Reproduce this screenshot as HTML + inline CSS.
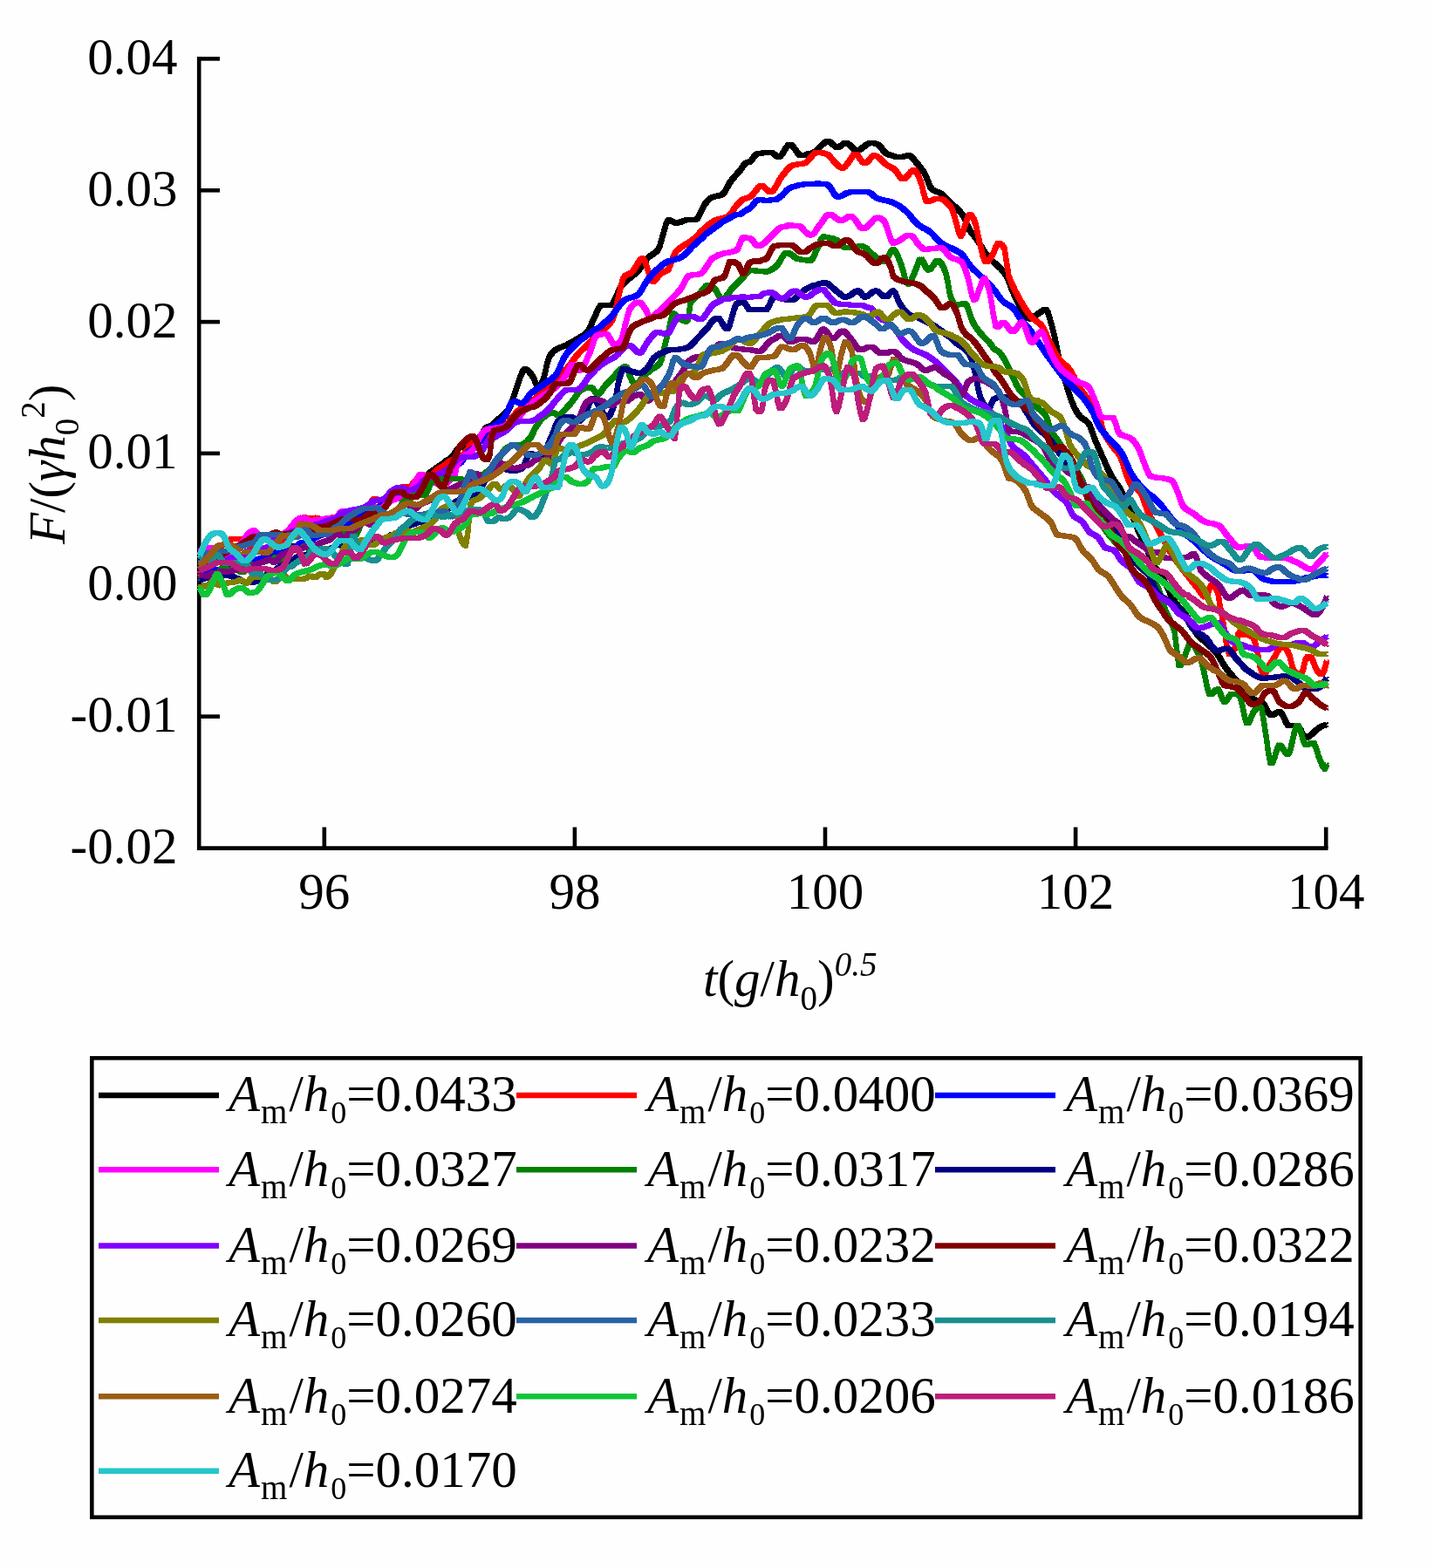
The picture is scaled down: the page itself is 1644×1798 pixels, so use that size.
<!DOCTYPE html>
<html><head><meta charset="utf-8"><style>
html,body{margin:0;padding:0;background:#fefefe;}
svg{display:block;}
text{font-family:"Liberation Serif","Times New Roman",serif;font-size:59px;fill:#000;}
</style></head><body>
<svg width="1644" height="1798" viewBox="0 0 1644 1798">
<rect width="1644" height="1798" fill="#fefefe"/>

<g stroke="#000" stroke-width="4.6" fill="none">
<polyline points="228.2,65.1 228.2,972.6 1522.5,972.6"/>
<line x1="228.0" y1="67.4" x2="252" y2="67.4"/>
<line x1="228.0" y1="218.3" x2="252" y2="218.3"/>
<line x1="228.0" y1="369.1" x2="252" y2="369.1"/>
<line x1="228.0" y1="519.9" x2="252" y2="519.9"/>
<line x1="228.0" y1="670.8" x2="252" y2="670.8"/>
<line x1="228.0" y1="821.6" x2="252" y2="821.6"/>
<line x1="371.8" y1="972.6" x2="371.8" y2="948.5"/>
<line x1="658.9" y1="972.6" x2="658.9" y2="948.5"/>
<line x1="946.0" y1="972.6" x2="946.0" y2="948.5"/>
<line x1="1233.1" y1="972.6" x2="1233.1" y2="948.5"/>
<line x1="1520.2" y1="972.6" x2="1520.2" y2="948.5"/>
</g>
<g fill="none" stroke-width="6" stroke-linejoin="round" shape-rendering="crispEdges">
<defs><polyline id="c0" points="229.0,660.0 231.5,659.4 234.0,658.8 236.5,657.7 239.0,656.5 241.5,656.4 244.0,657.4 246.5,657.7 249.0,656.4 251.5,654.3 254.0,652.6 256.5,652.5 259.0,653.5 261.5,654.3 264.0,653.6 266.5,651.5 269.0,649.0 271.5,647.3 274.0,646.8 276.5,646.7 279.0,645.9 281.5,644.2 284.0,642.4 286.5,642.1 289.0,643.1 291.5,643.4 294.0,642.3 296.5,641.1 299.0,640.3 301.5,639.5 304.0,638.7 306.5,637.8 309.0,637.0 311.5,636.0 314.0,634.1 316.5,631.9 319.0,630.9 321.5,631.4 324.0,632.3 326.5,632.4 329.0,630.8 331.5,628.4 334.0,626.5 336.5,626.0 339.0,626.8 341.5,627.4 344.0,626.6 346.5,624.4 349.0,621.7 351.5,619.8 354.0,618.9 356.5,618.4 359.0,617.2 361.5,615.6 364.0,614.5 366.5,614.2 369.0,613.3 371.5,612.2 374.0,611.1 376.5,610.0 379.0,609.3 381.5,608.0 384.0,606.5 386.5,605.7 389.0,605.0 391.5,603.4 394.0,600.8 396.5,598.3 399.0,596.9 401.5,596.9 404.0,597.5 406.5,597.3 409.0,595.5 411.5,592.7 414.0,590.5 416.5,589.7 419.0,590.2 421.5,590.6 424.0,589.6 426.5,587.2 429.0,584.4 431.5,582.3 434.0,581.2 436.5,580.0 439.0,578.5 441.5,577.0 444.0,575.6 446.5,574.1 449.0,572.6 451.5,571.1 454.0,570.5 456.5,569.9 459.0,568.2 461.5,565.4 464.0,563.2 466.5,561.9 469.0,560.7 471.5,558.4 474.0,555.1 476.5,551.8 479.0,549.6 481.5,549.0 484.0,549.0 486.5,548.0 489.0,545.5 491.5,542.9 494.0,541.2 496.5,539.6 499.0,537.7 501.5,535.9 504.0,534.1 506.5,532.5 509.0,530.6 511.5,528.6 514.0,527.1 516.5,525.8 519.0,523.4 521.5,519.7 524.0,515.9 526.5,513.4 529.0,512.7 531.5,513.4 534.0,513.7 536.5,512.5 539.0,509.8 541.5,506.8 544.0,504.6 546.5,503.2 549.0,501.7 551.5,499.1 554.0,495.4 556.5,491.6 559.0,489.4 561.5,488.6 564.0,487.5 566.5,485.4 569.0,483.0 571.5,480.8 574.0,478.5 576.5,476.5 579.0,474.3 581.5,471.7 584.0,468.2 586.5,462.2 589.0,454.4 591.5,447.3 594.0,439.9 596.5,432.4 599.0,426.2 601.5,423.1 604.0,423.7 606.5,426.0 609.0,429.2 611.5,432.8 614.0,439.0 616.5,443.1 619.0,441.8 621.5,438.5 624.0,431.8 626.5,420.3 629.0,410.9 631.5,406.6 634.0,403.4 636.5,401.3 639.0,399.8 641.5,398.7 644.0,397.8 646.5,396.9 649.0,395.9 651.5,394.6 654.0,393.3 656.5,391.7 659.0,390.4 661.5,388.8 664.0,387.4 666.5,386.0 669.0,384.5 671.5,382.6 674.0,380.0 676.5,375.1 679.0,369.4 681.5,364.2 684.0,358.4 686.5,353.1 689.0,350.2 691.5,350.1 694.0,350.1 696.5,350.1 699.0,350.1 701.5,349.6 704.0,345.7 706.5,340.6 709.0,334.2 711.5,328.8 714.0,325.8 716.5,323.5 719.0,321.3 721.5,319.1 724.0,317.2 726.5,315.2 729.0,313.0 731.5,310.6 734.0,307.6 736.5,304.0 739.0,300.4 741.5,297.1 744.0,294.6 746.5,292.7 749.0,291.2 751.5,289.3 754.0,286.8 756.5,282.2 759.0,272.9 761.5,264.2 764.0,255.8 766.5,252.2 769.0,253.0 771.5,254.4 774.0,255.6 776.5,255.7 779.0,255.1 781.5,254.1 784.0,253.0 786.5,252.3 789.0,252.2 791.5,252.2 794.0,252.2 796.5,252.2 799.0,251.2 801.5,247.3 804.0,241.9 806.5,236.7 809.0,233.0 811.5,230.0 814.0,227.5 816.5,226.2 819.0,225.4 821.5,225.0 824.0,224.4 826.5,223.7 829.0,222.4 831.5,219.1 834.0,214.3 836.5,209.7 839.0,206.3 841.5,203.3 844.0,200.5 846.5,197.7 849.0,194.7 851.5,190.9 854.0,187.6 856.5,186.3 859.0,185.9 861.5,184.3 864.0,180.4 866.5,176.9 869.0,176.1 871.5,175.7 874.0,175.5 876.5,174.9 879.0,174.8 881.5,174.7 884.0,174.7 886.5,175.9 889.0,178.1 891.5,179.8 894.0,179.7 896.5,177.1 899.0,173.0 901.5,169.0 904.0,166.1 906.5,165.7 909.0,167.7 911.5,171.2 914.0,174.8 916.5,177.5 919.0,178.3 921.5,178.1 924.0,177.5 926.5,176.5 929.0,176.1 931.5,175.3 934.0,174.2 936.5,172.4 939.0,169.8 941.5,166.9 944.0,164.7 946.5,162.8 949.0,161.9 951.5,162.6 954.0,164.7 956.5,167.1 959.0,168.9 961.5,169.0 964.0,167.3 966.5,165.1 969.0,163.7 971.5,164.3 974.0,166.3 976.5,168.7 979.0,171.3 981.5,172.7 984.0,172.5 986.5,171.3 989.0,169.3 991.5,167.4 994.0,165.5 996.5,164.1 999.0,163.7 1001.5,164.0 1004.0,164.8 1006.5,165.7 1009.0,167.9 1011.5,171.0 1014.0,174.2 1016.5,176.3 1019.0,177.3 1021.5,178.2 1024.0,178.8 1026.5,179.6 1029.0,180.0 1031.5,180.1 1034.0,179.9 1036.5,179.3 1039.0,178.7 1041.5,178.3 1044.0,178.8 1046.5,181.3 1049.0,184.6 1051.5,187.5 1054.0,190.5 1056.5,193.8 1059.0,197.4 1061.5,201.8 1064.0,208.2 1066.5,214.4 1069.0,217.4 1071.5,218.8 1074.0,219.8 1076.5,220.7 1079.0,222.1 1081.5,224.2 1084.0,226.8 1086.5,229.5 1089.0,232.1 1091.5,234.4 1094.0,236.4 1096.5,238.4 1099.0,241.0 1101.5,243.8 1104.0,247.0 1106.5,251.6 1109.0,258.0 1111.5,263.6 1114.0,267.2 1116.5,270.0 1119.0,273.1 1121.5,276.8 1124.0,281.0 1126.5,285.3 1129.0,289.3 1131.5,292.8 1134.0,295.6 1136.5,298.0 1139.0,300.4 1141.5,302.8 1144.0,305.0 1146.5,307.1 1149.0,309.7 1151.5,312.7 1154.0,316.8 1156.5,322.5 1159.0,329.2 1161.5,335.3 1164.0,340.9 1166.5,345.5 1169.0,350.4 1171.5,355.0 1174.0,359.4 1176.5,362.9 1179.0,365.1 1181.5,365.7 1184.0,364.7 1186.5,362.8 1189.0,360.6 1191.5,358.7 1194.0,357.1 1196.5,355.5 1199.0,354.7 1201.5,358.3 1204.0,366.9 1206.5,375.7 1209.0,385.9 1211.5,397.5 1214.0,409.9 1216.5,420.1 1219.0,429.3 1221.5,437.9 1224.0,446.2 1226.5,454.2 1229.0,461.1 1231.5,466.8 1234.0,471.6 1236.5,475.6 1239.0,478.4 1241.5,480.3 1244.0,481.9 1246.5,483.8 1249.0,486.9 1251.5,493.4 1254.0,500.7 1256.5,506.8 1259.0,512.6 1261.5,518.3 1264.0,523.9 1266.5,529.6 1269.0,535.3 1271.5,540.6 1274.0,545.4 1276.5,549.5 1279.0,553.1 1281.5,556.6 1284.0,560.3 1286.5,564.7 1289.0,569.6 1291.5,574.8 1294.0,580.6 1296.5,586.9 1299.0,593.4 1301.5,599.7 1304.0,606.2 1306.5,612.2 1309.0,617.4 1311.5,622.2 1314.0,627.3 1316.5,633.5 1319.0,640.3 1321.5,646.0 1324.0,650.2 1326.5,653.6 1329.0,656.9 1331.5,660.4 1334.0,664.7 1336.5,669.7 1339.0,674.9 1341.5,680.5 1344.0,685.4 1346.5,689.4 1349.0,692.9 1351.5,696.2 1354.0,699.3 1356.5,701.8 1359.0,705.0 1361.5,708.4 1364.0,712.3 1366.5,717.2 1369.0,722.1 1371.5,726.1 1374.0,729.0 1376.5,731.4 1379.0,733.7 1381.5,736.0 1384.0,738.4 1386.5,740.7 1389.0,742.4 1391.5,745.4 1394.0,748.1 1396.5,751.3 1399.0,755.4 1401.5,759.9 1404.0,764.0 1406.5,767.4 1409.0,770.6 1411.5,773.6 1414.0,776.5 1416.5,779.5 1419.0,782.4 1421.5,785.3 1424.0,788.2 1426.5,791.3 1429.0,794.6 1431.5,797.5 1434.0,799.9 1436.5,801.6 1439.0,802.7 1441.5,803.5 1444.0,804.4 1446.5,805.6 1449.0,807.6 1451.5,811.9 1454.0,816.7 1456.5,819.8 1459.0,819.8 1461.5,818.5 1464.0,817.0 1466.5,816.0 1469.0,817.5 1471.5,822.1 1474.0,827.6 1476.5,831.7 1479.0,832.4 1481.5,832.4 1484.0,832.4 1486.5,832.4 1489.0,833.3 1491.5,837.6 1494.0,842.7 1496.5,845.9 1499.0,845.6 1501.5,843.9 1504.0,841.7 1506.5,839.6 1509.0,837.3 1511.5,835.1 1514.0,833.6 1516.5,832.4 1519.0,831.5 1521.0,831.1"/>
<polyline id="c1" points="229.0,658.0 231.5,653.6 234.0,649.5 236.5,645.3 239.0,641.5 241.5,639.1 244.0,637.7 246.5,635.2 249.0,631.8 251.5,628.4 254.0,626.0 256.5,624.6 259.0,623.0 261.5,620.6 264.0,618.6 266.5,618.1 269.0,618.2 271.5,617.9 274.0,618.0 276.5,618.5 279.0,620.1 281.5,622.5 284.0,624.6 286.5,626.8 289.0,628.2 291.5,629.3 294.0,630.3 296.5,631.4 299.0,631.9 301.5,631.9 304.0,631.5 306.5,630.8 309.0,630.3 311.5,629.1 314.0,626.4 316.5,623.4 319.0,621.8 321.5,621.2 324.0,620.6 326.5,618.7 329.0,615.7 331.5,612.6 334.0,610.2 336.5,608.6 339.0,606.7 341.5,603.3 344.0,598.7 346.5,594.5 349.0,593.3 351.5,594.0 354.0,594.5 356.5,594.0 359.0,593.6 361.5,593.5 364.0,594.0 366.5,594.9 369.0,595.6 371.5,596.0 374.0,596.0 376.5,595.8 379.0,594.9 381.5,593.4 384.0,593.1 386.5,594.2 389.0,595.0 391.5,593.9 394.0,591.7 396.5,589.8 399.0,589.2 401.5,589.8 404.0,590.4 406.5,589.9 409.0,588.3 411.5,586.7 414.0,585.9 416.5,585.8 419.0,585.2 421.5,582.9 424.0,578.8 426.5,574.5 429.0,571.6 431.5,572.0 434.0,573.6 436.5,574.0 439.0,572.9 441.5,571.6 444.0,570.4 446.5,569.3 449.0,568.2 451.5,567.6 454.0,566.7 456.5,564.2 459.0,560.6 461.5,558.2 464.0,558.2 466.5,559.0 469.0,558.9 471.5,557.1 474.0,554.2 476.5,551.6 479.0,550.4 481.5,550.4 484.0,550.3 486.5,549.3 489.0,547.3 491.5,545.4 494.0,544.3 496.5,543.2 499.0,541.1 501.5,538.6 504.0,536.9 506.5,535.3 509.0,533.7 511.5,532.1 514.0,529.7 516.5,528.2 519.0,527.2 521.5,525.9 524.0,524.5 526.5,523.6 529.0,523.1 531.5,521.7 534.0,518.6 536.5,514.0 539.0,509.5 541.5,506.7 544.0,506.5 546.5,506.3 549.0,505.0 551.5,503.2 554.0,501.6 556.5,500.1 559.0,498.7 561.5,497.5 564.0,496.5 566.5,495.7 569.0,494.3 571.5,492.9 574.0,491.5 576.5,490.0 579.0,488.3 581.5,486.1 584.0,483.3 586.5,479.4 589.0,476.6 591.5,473.8 594.0,471.3 596.5,469.4 599.0,467.8 601.5,466.3 604.0,464.8 606.5,463.2 609.0,461.4 611.5,459.2 614.0,457.2 616.5,454.5 619.0,452.1 621.5,449.9 624.0,447.7 626.5,445.5 629.0,443.6 631.5,441.2 634.0,438.9 636.5,436.6 639.0,434.1 641.5,431.7 644.0,429.1 646.5,426.5 649.0,423.7 651.5,420.8 654.0,417.6 656.5,414.2 659.0,410.6 661.5,407.4 664.0,404.6 666.5,402.1 669.0,399.7 671.5,397.3 674.0,394.8 676.5,392.3 679.0,389.7 681.5,387.1 684.0,384.8 686.5,382.3 689.0,379.9 691.5,377.8 694.0,376.4 696.5,373.9 699.0,371.2 701.5,367.8 704.0,362.0 706.5,351.7 709.0,340.4 711.5,329.7 714.0,319.9 716.5,316.5 719.0,315.1 721.5,314.0 724.0,312.6 726.5,309.8 729.0,305.7 731.5,301.4 734.0,297.9 736.5,296.1 739.0,298.7 741.5,306.0 744.0,313.4 746.5,321.5 749.0,323.2 751.5,320.9 754.0,317.6 756.5,314.6 759.0,313.0 761.5,311.8 764.0,310.5 766.5,308.5 769.0,302.7 771.5,295.0 774.0,289.8 776.5,287.1 779.0,285.0 781.5,283.1 784.0,281.4 786.5,280.0 789.0,278.6 791.5,276.8 794.0,275.1 796.5,273.1 799.0,270.6 801.5,267.9 804.0,265.3 806.5,262.9 809.0,260.7 811.5,258.6 814.0,256.5 816.5,254.7 819.0,253.2 821.5,252.0 824.0,251.2 826.5,250.6 829.0,250.0 831.5,249.3 834.0,248.4 836.5,246.5 839.0,243.7 841.5,239.6 844.0,236.2 846.5,233.6 849.0,230.8 851.5,228.8 854.0,227.7 856.5,227.0 859.0,226.2 861.5,224.7 864.0,221.9 866.5,218.6 869.0,215.3 871.5,213.3 874.0,213.2 876.5,215.0 879.0,217.4 881.5,219.5 884.0,220.3 886.5,218.6 889.0,214.9 891.5,210.4 894.0,205.7 896.5,202.0 899.0,198.9 901.5,195.8 904.0,193.1 906.5,190.7 909.0,189.4 911.5,188.8 914.0,188.5 916.5,188.1 919.0,188.0 921.5,187.5 924.0,186.4 926.5,184.0 929.0,181.2 931.5,178.0 934.0,175.7 936.5,174.7 939.0,174.8 941.5,175.1 944.0,175.6 946.5,176.2 949.0,177.2 951.5,179.6 954.0,182.6 956.5,185.4 959.0,187.9 961.5,190.5 964.0,192.4 966.5,192.8 969.0,190.8 971.5,187.6 974.0,184.5 976.5,180.4 979.0,177.1 981.5,176.8 984.0,179.2 986.5,182.8 989.0,186.1 991.5,187.4 994.0,186.1 996.5,183.3 999.0,180.3 1001.5,178.4 1004.0,178.6 1006.5,179.9 1009.0,182.1 1011.5,184.6 1014.0,186.9 1016.5,189.0 1019.0,190.6 1021.5,191.9 1024.0,193.3 1026.5,195.1 1029.0,198.5 1031.5,202.5 1034.0,205.3 1036.5,205.4 1039.0,203.4 1041.5,200.3 1044.0,197.3 1046.5,195.1 1049.0,195.1 1051.5,198.7 1054.0,204.4 1056.5,211.1 1059.0,221.6 1061.5,230.1 1064.0,231.1 1066.5,230.4 1069.0,229.6 1071.5,228.4 1074.0,227.7 1076.5,227.7 1079.0,228.3 1081.5,228.9 1084.0,230.7 1086.5,233.2 1089.0,235.7 1091.5,239.6 1094.0,247.3 1096.5,256.2 1099.0,266.3 1101.5,271.2 1104.0,266.4 1106.5,258.1 1109.0,250.0 1111.5,245.9 1114.0,247.3 1116.5,251.5 1119.0,258.8 1121.5,271.2 1124.0,281.7 1126.5,292.4 1129.0,299.7 1131.5,300.2 1134.0,297.9 1136.5,294.5 1139.0,290.2 1141.5,283.6 1144.0,279.0 1146.5,279.2 1149.0,281.3 1151.5,285.1 1154.0,300.8 1156.5,316.7 1159.0,323.2 1161.5,328.5 1164.0,333.8 1166.5,338.5 1169.0,343.2 1171.5,347.5 1174.0,351.6 1176.5,355.5 1179.0,359.2 1181.5,362.4 1184.0,365.1 1186.5,367.0 1189.0,368.8 1191.5,370.7 1194.0,373.2 1196.5,377.2 1199.0,382.4 1201.5,388.1 1204.0,393.5 1206.5,398.4 1209.0,403.2 1211.5,407.7 1214.0,411.4 1216.5,414.3 1219.0,416.6 1221.5,418.8 1224.0,421.1 1226.5,424.0 1229.0,427.8 1231.5,432.6 1234.0,437.7 1236.5,442.4 1239.0,446.3 1241.5,449.9 1244.0,453.3 1246.5,456.4 1249.0,459.3 1251.5,461.5 1254.0,463.3 1256.5,465.4 1259.0,468.8 1261.5,480.7 1264.0,492.4 1266.5,498.1 1269.0,502.5 1271.5,506.1 1274.0,509.7 1276.5,513.1 1279.0,515.9 1281.5,518.8 1284.0,522.6 1286.5,528.9 1289.0,537.4 1291.5,544.7 1294.0,551.1 1296.5,555.3 1299.0,557.7 1301.5,559.4 1304.0,561.0 1306.5,563.4 1309.0,567.9 1311.5,574.6 1314.0,581.6 1316.5,588.1 1319.0,593.2 1321.5,596.8 1324.0,600.3 1326.5,604.6 1329.0,609.7 1331.5,614.6 1334.0,619.3 1336.5,624.0 1339.0,628.4 1341.5,632.6 1344.0,636.5 1346.5,640.2 1349.0,644.0 1351.5,647.1 1354.0,650.4 1356.5,653.7 1359.0,656.8 1361.5,659.9 1364.0,663.0 1366.5,666.2 1369.0,669.4 1371.5,672.5 1374.0,675.7 1376.5,679.4 1379.0,682.7 1381.5,684.5 1384.0,682.1 1386.5,675.0 1389.0,670.9 1391.5,671.9 1394.0,674.7 1396.5,680.5 1399.0,696.9 1401.5,708.9 1404.0,724.3 1406.5,741.2 1409.0,749.9 1411.5,749.4 1414.0,746.3 1416.5,741.6 1419.0,728.5 1421.5,724.7 1424.0,727.3 1426.5,728.4 1429.0,728.4 1431.5,728.4 1434.0,729.1 1436.5,730.8 1439.0,736.6 1441.5,747.2 1444.0,762.2 1446.5,770.1 1449.0,773.6 1451.5,770.8 1454.0,765.1 1456.5,760.9 1459.0,757.1 1461.5,753.1 1464.0,748.0 1466.5,743.8 1469.0,742.7 1471.5,742.1 1474.0,743.1 1476.5,747.4 1479.0,753.6 1481.5,764.4 1484.0,770.0 1486.5,771.9 1489.0,773.1 1491.5,773.6 1494.0,767.7 1496.5,757.0 1499.0,753.1 1501.5,753.1 1504.0,754.6 1506.5,761.1 1509.0,767.5 1511.5,771.0 1514.0,773.4 1516.5,772.4 1519.0,766.2 1521.0,758.5"/>
<polyline id="c2" points="229.0,660.0 231.5,659.4 234.0,658.8 236.5,658.1 239.0,657.5 241.5,656.8 244.0,655.4 246.5,653.9 249.0,653.1 251.5,653.4 254.0,654.2 256.5,654.7 259.0,653.9 261.5,652.1 264.0,650.2 266.5,649.3 269.0,649.5 271.5,650.1 274.0,649.9 276.5,648.7 279.0,646.8 281.5,645.3 284.0,644.6 286.5,644.2 289.0,643.5 291.5,642.4 294.0,641.7 296.5,641.1 299.0,640.3 301.5,639.5 304.0,638.7 306.5,638.3 309.0,637.9 311.5,636.7 314.0,635.3 316.5,634.3 319.0,633.6 321.5,632.6 324.0,630.8 326.5,628.8 329.0,627.5 331.5,627.4 334.0,628.0 336.5,628.2 339.0,627.2 341.5,625.1 344.0,622.9 346.5,621.8 349.0,621.7 351.5,621.9 354.0,621.5 356.5,620.0 359.0,617.9 361.5,616.4 364.0,615.4 366.5,614.4 369.0,613.3 371.5,612.2 374.0,611.1 376.5,610.0 379.0,608.4 381.5,607.5 384.0,607.6 386.5,607.7 389.0,606.2 391.5,603.9 394.0,601.9 396.5,600.7 399.0,599.7 401.5,598.2 404.0,595.9 406.5,593.3 409.0,591.5 411.5,591.0 414.0,591.2 416.5,591.0 419.0,589.7 421.5,587.3 424.0,584.9 426.5,583.4 429.0,583.0 431.5,582.8 434.0,581.6 436.5,579.8 439.0,578.1 441.5,576.8 444.0,575.5 446.5,574.3 449.0,573.0 451.5,571.8 454.0,569.8 456.5,567.5 459.0,566.1 461.5,566.4 464.0,567.2 466.5,567.2 469.0,565.9 471.5,564.0 474.0,562.4 476.5,561.4 479.0,560.7 481.5,559.3 484.0,557.0 486.5,554.4 489.0,552.6 491.5,552.0 494.0,552.2 496.5,552.1 499.0,550.8 501.5,548.4 504.0,546.3 506.5,545.0 509.0,543.9 511.5,542.3 514.0,540.7 516.5,539.0 519.0,537.1 521.5,535.2 524.0,533.3 526.5,531.7 529.0,529.7 531.5,526.2 534.0,522.0 536.5,518.3 539.0,516.5 541.5,515.3 544.0,513.3 546.5,510.3 549.0,507.3 551.5,504.2 554.0,500.5 556.5,496.3 559.0,492.8 561.5,490.8 564.0,489.4 566.5,488.1 569.0,486.6 571.5,484.6 574.0,482.6 576.5,480.4 579.0,477.3 581.5,473.4 584.0,465.7 586.5,461.6 589.0,460.4 591.5,460.3 594.0,461.4 596.5,462.7 599.0,463.0 601.5,460.9 604.0,457.1 606.5,453.2 609.0,450.6 611.5,448.8 614.0,447.1 616.5,445.5 619.0,443.8 621.5,442.1 624.0,440.4 626.5,438.6 629.0,436.8 631.5,435.1 634.0,433.2 636.5,430.9 639.0,427.4 641.5,422.0 644.0,415.8 646.5,410.3 649.0,406.6 651.5,403.5 654.0,400.8 656.5,398.3 659.0,395.9 661.5,393.7 664.0,391.5 666.5,389.1 669.0,387.5 671.5,385.8 674.0,383.9 676.5,382.0 679.0,380.1 681.5,378.3 684.0,376.8 686.5,375.8 689.0,374.1 691.5,371.5 694.0,369.3 696.5,367.3 699.0,365.0 701.5,362.3 704.0,359.0 706.5,355.6 709.0,352.0 711.5,348.6 714.0,345.8 716.5,343.7 719.0,342.4 721.5,341.6 724.0,341.1 726.5,340.2 729.0,339.3 731.5,338.0 734.0,335.2 736.5,330.8 739.0,326.1 741.5,322.3 744.0,319.1 746.5,316.0 749.0,313.2 751.5,310.7 754.0,308.4 756.5,306.2 759.0,304.1 761.5,302.2 764.0,300.7 766.5,299.5 769.0,298.7 771.5,298.1 774.0,297.5 776.5,296.9 779.0,296.0 781.5,294.6 784.0,292.7 786.5,290.4 789.0,287.9 791.5,285.2 794.0,282.6 796.5,280.2 799.0,278.0 801.5,275.8 804.0,273.8 806.5,271.2 809.0,268.5 811.5,266.8 814.0,265.1 816.5,263.2 819.0,261.3 821.5,259.5 824.0,257.8 826.5,255.7 829.0,254.0 831.5,253.0 834.0,251.5 836.5,250.0 839.0,248.6 841.5,247.3 844.0,246.2 846.5,245.6 849.0,245.5 851.5,243.7 854.0,241.9 856.5,240.6 859.0,239.2 861.5,237.1 864.0,233.9 866.5,230.8 869.0,229.4 871.5,229.4 874.0,229.4 876.5,229.6 879.0,230.1 881.5,229.6 884.0,229.4 886.5,229.4 889.0,229.2 891.5,228.0 894.0,226.1 896.5,224.2 899.0,221.5 901.5,218.8 904.0,216.6 906.5,215.1 909.0,214.3 911.5,213.6 914.0,212.9 916.5,212.2 919.0,211.7 921.5,211.5 924.0,211.2 926.5,211.2 929.0,211.2 931.5,211.4 934.0,211.4 936.5,210.4 939.0,210.4 941.5,211.0 944.0,211.2 946.5,211.2 949.0,211.7 951.5,214.4 954.0,218.4 956.5,222.6 959.0,225.3 961.5,225.7 964.0,225.0 966.5,223.7 969.0,222.2 971.5,221.1 974.0,220.4 976.5,220.3 979.0,220.3 981.5,220.3 984.0,219.9 986.5,219.8 989.0,220.2 991.5,220.3 994.0,220.3 996.5,220.6 999.0,222.2 1001.5,224.4 1004.0,226.5 1006.5,227.8 1009.0,228.5 1011.5,229.2 1014.0,229.7 1016.5,230.1 1019.0,230.7 1021.5,231.5 1024.0,232.6 1026.5,233.7 1029.0,234.8 1031.5,236.4 1034.0,238.5 1036.5,240.4 1039.0,242.4 1041.5,244.9 1044.0,248.0 1046.5,251.2 1049.0,254.2 1051.5,256.7 1054.0,258.6 1056.5,260.1 1059.0,261.7 1061.5,262.8 1064.0,264.3 1066.5,266.1 1069.0,268.5 1071.5,271.2 1074.0,274.0 1076.5,276.6 1079.0,278.7 1081.5,280.2 1084.0,281.5 1086.5,283.1 1089.0,283.8 1091.5,284.9 1094.0,286.2 1096.5,287.5 1099.0,288.9 1101.5,290.6 1104.0,292.8 1106.5,296.3 1109.0,300.3 1111.5,303.8 1114.0,306.6 1116.5,309.2 1119.0,311.5 1121.5,313.9 1124.0,316.4 1126.5,318.8 1129.0,321.1 1131.5,323.4 1134.0,326.1 1136.5,328.6 1139.0,331.4 1141.5,334.5 1144.0,338.1 1146.5,341.6 1149.0,344.6 1151.5,346.8 1154.0,348.4 1156.5,349.8 1159.0,351.3 1161.5,353.4 1164.0,356.5 1166.5,360.4 1169.0,364.2 1171.5,367.4 1174.0,370.3 1176.5,373.1 1179.0,376.0 1181.5,379.2 1184.0,382.7 1186.5,386.5 1189.0,390.4 1191.5,394.2 1194.0,397.8 1196.5,401.5 1199.0,405.2 1201.5,408.6 1204.0,412.1 1206.5,415.6 1209.0,419.0 1211.5,422.3 1214.0,425.9 1216.5,429.2 1219.0,432.2 1221.5,435.2 1224.0,438.0 1226.5,440.5 1229.0,442.8 1231.5,445.2 1234.0,447.7 1236.5,450.4 1239.0,453.2 1241.5,456.0 1244.0,459.0 1246.5,462.7 1249.0,466.3 1251.5,470.3 1254.0,475.2 1256.5,481.4 1259.0,487.1 1261.5,491.1 1264.0,494.5 1266.5,497.5 1269.0,500.5 1271.5,503.3 1274.0,505.8 1276.5,508.1 1279.0,511.0 1281.5,513.7 1284.0,516.8 1286.5,520.6 1289.0,525.5 1291.5,530.9 1294.0,536.7 1296.5,542.0 1299.0,546.5 1301.5,550.0 1304.0,553.2 1306.5,556.0 1309.0,558.7 1311.5,561.2 1314.0,563.7 1316.5,566.0 1319.0,568.2 1321.5,569.5 1324.0,572.2 1326.5,574.4 1329.0,576.8 1331.5,579.6 1334.0,582.7 1336.5,586.1 1339.0,589.3 1341.5,592.6 1344.0,595.6 1346.5,598.6 1349.0,601.5 1351.5,604.5 1354.0,607.3 1356.5,609.8 1359.0,612.1 1361.5,614.3 1364.0,616.2 1366.5,618.3 1369.0,620.4 1371.5,622.7 1374.0,625.0 1376.5,627.8 1379.0,630.3 1381.5,632.2 1384.0,634.4 1386.5,636.4 1389.0,638.2 1391.5,639.8 1394.0,641.4 1396.5,642.5 1399.0,643.9 1401.5,645.6 1404.0,647.0 1406.5,648.4 1409.0,650.0 1411.5,651.8 1414.0,653.3 1416.5,654.3 1419.0,655.0 1421.5,655.1 1424.0,654.8 1426.5,654.4 1429.0,653.8 1431.5,653.5 1434.0,653.3 1436.5,653.7 1439.0,655.3 1441.5,657.9 1444.0,660.3 1446.5,662.6 1449.0,664.1 1451.5,664.8 1454.0,665.5 1456.5,666.3 1459.0,666.6 1461.5,666.8 1464.0,667.0 1466.5,667.0 1469.0,667.0 1471.5,667.2 1474.0,667.1 1476.5,667.0 1479.0,667.0 1481.5,666.9 1484.0,666.6 1486.5,665.9 1489.0,665.6 1491.5,664.9 1494.0,663.6 1496.5,662.7 1499.0,662.2 1501.5,661.8 1504.0,661.5 1506.5,661.3 1509.0,660.6 1511.5,659.6 1514.0,659.9 1516.5,660.2 1519.0,660.1 1521.0,660.0"/>
<polyline id="c3" points="229.0,632.5 231.5,630.5 234.0,629.1 236.5,628.1 239.0,627.8 241.5,627.6 244.0,627.6 246.5,628.8 249.0,631.4 251.5,634.6 254.0,637.6 256.5,639.6 259.0,639.9 261.5,638.9 264.0,637.0 266.5,635.1 269.0,632.0 271.5,628.8 274.0,626.0 276.5,623.4 279.0,620.3 281.5,616.3 284.0,612.8 286.5,610.7 289.0,608.7 291.5,608.1 294.0,610.9 296.5,613.1 299.0,613.5 301.5,614.1 304.0,615.2 306.5,615.0 309.0,613.5 311.5,613.6 314.0,614.6 316.5,615.0 319.0,615.0 321.5,614.8 324.0,613.7 326.5,611.8 329.0,609.4 331.5,607.0 334.0,604.3 336.5,600.9 339.0,597.8 341.5,595.8 344.0,594.3 346.5,593.5 349.0,593.9 351.5,595.4 354.0,596.8 356.5,597.2 359.0,597.1 361.5,596.5 364.0,595.6 366.5,595.9 369.0,595.5 371.5,595.1 374.0,594.6 376.5,594.1 379.0,594.1 381.5,594.9 384.0,594.9 386.5,592.9 389.0,589.3 391.5,586.8 394.0,586.1 396.5,586.8 399.0,587.2 401.5,586.7 404.0,585.3 406.5,584.0 409.0,583.6 411.5,583.7 414.0,583.2 416.5,582.0 419.0,581.1 421.5,581.0 424.0,581.0 426.5,580.9 429.0,581.2 431.5,582.2 434.0,582.8 436.5,582.5 439.0,581.6 441.5,579.6 444.0,577.4 446.5,575.3 449.0,574.0 451.5,572.9 454.0,572.1 456.5,571.3 459.0,571.2 461.5,572.5 464.0,573.0 466.5,570.7 469.0,566.3 471.5,561.1 474.0,555.9 476.5,551.8 479.0,547.6 481.5,544.4 484.0,544.0 486.5,545.0 489.0,546.5 491.5,548.7 494.0,550.8 496.5,552.4 499.0,553.8 501.5,554.6 504.0,554.5 506.5,554.2 509.0,554.1 511.5,554.4 514.0,552.1 516.5,549.3 519.0,546.9 521.5,544.1 524.0,533.0 526.5,528.9 529.0,526.0 531.5,523.1 534.0,521.4 536.5,520.6 539.0,518.9 541.5,516.6 544.0,513.2 546.5,508.8 549.0,504.0 551.5,499.2 554.0,495.5 556.5,493.2 559.0,492.3 561.5,491.7 564.0,491.2 566.5,490.6 569.0,490.5 571.5,490.4 574.0,489.8 576.5,489.3 579.0,488.5 581.5,487.4 584.0,485.7 586.5,484.0 589.0,483.5 591.5,483.2 594.0,480.7 596.5,476.3 599.0,472.7 601.5,470.1 604.0,467.8 606.5,465.7 609.0,463.8 611.5,461.8 614.0,459.4 616.5,458.0 619.0,456.2 621.5,454.5 624.0,452.8 626.5,451.2 629.0,449.8 631.5,448.0 634.0,446.6 636.5,444.8 639.0,442.6 641.5,440.0 644.0,437.0 646.5,433.7 649.0,429.9 651.5,424.7 654.0,419.9 656.5,417.6 659.0,419.3 661.5,422.9 664.0,424.9 666.5,423.5 669.0,419.9 671.5,415.0 674.0,409.2 676.5,403.6 679.0,396.9 681.5,389.1 684.0,384.7 686.5,384.0 689.0,383.4 691.5,383.1 694.0,382.9 696.5,383.7 699.0,387.7 701.5,392.3 704.0,394.7 706.5,394.5 709.0,393.5 711.5,392.0 714.0,384.8 716.5,373.5 719.0,363.9 721.5,355.4 724.0,351.6 726.5,348.9 729.0,347.1 731.5,346.4 734.0,347.3 736.5,349.7 739.0,353.0 741.5,357.4 744.0,364.6 746.5,364.2 749.0,362.8 751.5,360.9 754.0,358.3 756.5,356.0 759.0,353.8 761.5,351.5 764.0,349.1 766.5,346.4 769.0,343.7 771.5,341.1 774.0,338.5 776.5,335.9 779.0,333.0 781.5,329.7 784.0,325.0 786.5,320.0 789.0,316.6 791.5,315.7 794.0,315.3 796.5,315.1 799.0,314.8 801.5,314.5 804.0,313.6 806.5,311.1 809.0,307.4 811.5,303.4 814.0,299.5 816.5,296.6 819.0,295.0 821.5,293.7 824.0,292.2 826.5,291.7 829.0,290.8 831.5,290.1 834.0,289.6 836.5,289.5 839.0,288.8 841.5,288.1 844.0,287.2 846.5,284.2 849.0,277.3 851.5,272.5 854.0,272.4 856.5,272.6 859.0,273.0 861.5,274.1 864.0,277.2 866.5,280.6 869.0,282.3 871.5,281.8 874.0,280.3 876.5,278.3 879.0,275.8 881.5,273.3 884.0,271.2 886.5,268.8 889.0,266.1 891.5,263.5 894.0,261.5 896.5,260.4 899.0,260.0 901.5,259.6 904.0,258.2 906.5,258.1 909.0,258.8 911.5,258.7 914.0,258.6 916.5,259.1 919.0,260.9 921.5,264.0 924.0,266.4 926.5,268.5 929.0,269.6 931.5,268.9 934.0,266.8 936.5,262.6 939.0,258.8 941.5,256.0 944.0,252.3 946.5,248.6 949.0,246.5 951.5,245.8 954.0,246.7 956.5,248.5 959.0,250.6 961.5,252.4 964.0,253.1 966.5,252.4 969.0,250.8 971.5,249.0 974.0,247.8 976.5,248.1 979.0,250.4 981.5,253.3 984.0,257.3 986.5,260.6 989.0,262.2 991.5,261.8 994.0,260.0 996.5,257.7 999.0,254.9 1001.5,251.9 1004.0,250.0 1006.5,249.5 1009.0,250.3 1011.5,251.8 1014.0,253.9 1016.5,259.7 1019.0,267.7 1021.5,275.2 1024.0,278.7 1026.5,278.3 1029.0,277.2 1031.5,275.5 1034.0,273.8 1036.5,272.0 1039.0,270.5 1041.5,269.7 1044.0,269.9 1046.5,271.6 1049.0,274.4 1051.5,278.4 1054.0,281.5 1056.5,283.8 1059.0,285.6 1061.5,286.0 1064.0,285.8 1066.5,285.3 1069.0,284.6 1071.5,284.8 1074.0,284.5 1076.5,284.3 1079.0,284.2 1081.5,285.4 1084.0,288.2 1086.5,291.6 1089.0,294.4 1091.5,295.9 1094.0,296.9 1096.5,297.1 1099.0,298.5 1101.5,299.7 1104.0,302.4 1106.5,308.6 1109.0,315.9 1111.5,326.3 1114.0,337.2 1116.5,343.9 1119.0,342.3 1121.5,335.2 1124.0,328.3 1126.5,320.9 1129.0,319.2 1131.5,324.7 1134.0,332.6 1136.5,345.6 1139.0,361.7 1141.5,373.5 1144.0,374.9 1146.5,372.2 1149.0,369.6 1151.5,369.9 1154.0,372.6 1156.5,376.3 1159.0,379.3 1161.5,380.2 1164.0,378.3 1166.5,374.9 1169.0,371.2 1171.5,369.3 1174.0,371.6 1176.5,378.4 1179.0,386.4 1181.5,392.2 1184.0,392.7 1186.5,389.7 1189.0,385.5 1191.5,381.7 1194.0,380.3 1196.5,383.4 1199.0,389.9 1201.5,397.1 1204.0,402.6 1206.5,407.7 1209.0,412.7 1211.5,417.0 1214.0,420.5 1216.5,423.2 1219.0,425.6 1221.5,427.6 1224.0,429.5 1226.5,431.3 1229.0,433.2 1231.5,435.0 1234.0,436.7 1236.5,438.1 1239.0,439.3 1241.5,440.1 1244.0,440.9 1246.5,442.2 1249.0,445.1 1251.5,450.2 1254.0,456.3 1256.5,462.3 1259.0,470.3 1261.5,477.2 1264.0,478.8 1266.5,478.8 1269.0,478.8 1271.5,478.8 1274.0,478.8 1276.5,479.1 1279.0,485.3 1281.5,493.8 1284.0,497.7 1286.5,499.0 1289.0,499.8 1291.5,500.6 1294.0,501.5 1296.5,502.9 1299.0,505.1 1301.5,508.1 1304.0,511.7 1306.5,516.6 1309.0,523.8 1311.5,530.3 1314.0,536.7 1316.5,542.5 1319.0,546.0 1321.5,546.8 1324.0,547.2 1326.5,548.0 1329.0,547.7 1331.5,548.0 1334.0,548.5 1336.5,548.9 1339.0,549.4 1341.5,550.2 1344.0,551.4 1346.5,555.4 1349.0,561.5 1351.5,567.8 1354.0,575.4 1356.5,580.7 1359.0,583.2 1361.5,585.0 1364.0,586.4 1366.5,587.8 1369.0,589.4 1371.5,591.3 1374.0,593.4 1376.5,595.5 1379.0,597.1 1381.5,598.4 1384.0,599.2 1386.5,599.8 1389.0,599.8 1391.5,600.7 1394.0,601.4 1396.5,602.2 1399.0,604.0 1401.5,606.8 1404.0,610.2 1406.5,613.6 1409.0,616.7 1411.5,619.7 1414.0,623.0 1416.5,625.8 1419.0,627.5 1421.5,627.7 1424.0,627.4 1426.5,626.9 1429.0,626.4 1431.5,626.1 1434.0,625.9 1436.5,626.8 1439.0,630.1 1441.5,634.4 1444.0,637.8 1446.5,638.9 1449.0,639.2 1451.5,639.6 1454.0,640.1 1456.5,639.9 1459.0,640.0 1461.5,640.0 1464.0,640.0 1466.5,640.0 1469.0,640.0 1471.5,640.1 1474.0,640.4 1476.5,640.5 1479.0,641.1 1481.5,642.8 1484.0,643.8 1486.5,644.8 1489.0,645.9 1491.5,647.4 1494.0,649.0 1496.5,650.4 1499.0,652.0 1501.5,652.8 1504.0,652.8 1506.5,651.1 1509.0,648.4 1511.5,645.5 1514.0,643.0 1516.5,640.3 1519.0,637.4 1521.0,635.0"/>
<polyline id="c4" points="229.0,663.0 231.5,662.5 234.0,661.9 236.5,661.4 239.0,661.2 241.5,662.9 244.0,665.9 246.5,665.6 249.0,661.9 251.5,656.3 254.0,651.7 256.5,650.3 259.0,651.8 261.5,653.9 264.0,654.4 266.5,653.1 269.0,651.7 271.5,652.0 274.0,654.1 276.5,656.2 279.0,656.0 281.5,652.9 284.0,648.9 286.5,646.8 289.0,647.4 291.5,647.9 294.0,647.0 296.5,646.0 299.0,645.3 301.5,644.6 304.0,643.8 306.5,642.6 309.0,642.0 311.5,641.8 314.0,640.6 316.5,639.0 319.0,639.3 321.5,641.7 324.0,644.2 326.5,644.3 329.0,640.8 331.5,635.1 334.0,630.1 336.5,628.1 339.0,628.9 341.5,630.2 344.0,630.0 346.5,628.2 349.0,626.4 351.5,626.7 354.0,628.8 356.5,631.0 359.0,629.8 361.5,626.5 364.0,623.8 366.5,622.9 369.0,622.1 371.5,621.2 374.0,620.3 376.5,619.3 379.0,618.2 381.5,615.7 384.0,613.1 386.5,612.3 389.0,613.2 391.5,612.9 394.0,611.1 396.5,609.2 399.0,609.4 401.5,612.0 404.0,614.8 406.5,615.3 409.0,612.1 411.5,606.4 414.0,601.3 416.5,598.8 419.0,598.9 421.5,599.4 424.0,598.4 426.5,596.0 429.0,593.8 431.5,594.1 434.0,595.6 436.5,595.4 439.0,593.4 441.5,591.7 444.0,590.5 446.5,589.2 449.0,587.9 451.5,586.7 454.0,586.5 456.5,585.3 459.0,581.4 461.5,576.4 464.0,573.4 466.5,572.6 469.0,572.3 471.5,570.6 474.0,567.3 476.5,564.3 479.0,563.6 481.5,565.5 484.0,568.1 486.5,568.4 489.0,565.1 491.5,559.4 494.0,554.1 496.5,551.2 499.0,550.8 501.5,551.0 504.0,550.1 506.5,549.1 509.0,549.2 511.5,549.2 514.0,549.0 516.5,549.0 519.0,549.0 521.5,549.0 524.0,549.0 526.5,549.1 529.0,549.4 531.5,550.4 534.0,550.6 536.5,550.5 539.0,550.7 541.5,550.5 544.0,549.8 546.5,548.5 549.0,547.2 551.5,545.8 554.0,544.1 556.5,542.3 559.0,540.4 561.5,538.6 564.0,536.9 566.5,535.0 569.0,532.4 571.5,527.9 574.0,522.7 576.5,518.7 579.0,515.3 581.5,513.4 584.0,512.2 586.5,511.3 589.0,510.8 591.5,510.5 594.0,510.3 596.5,510.1 599.0,509.7 601.5,508.5 604.0,506.4 606.5,503.8 609.0,500.7 611.5,495.4 614.0,490.3 616.5,486.3 619.0,482.7 621.5,479.8 624.0,477.7 626.5,475.7 629.0,474.1 631.5,473.1 634.0,472.9 636.5,474.3 639.0,476.0 641.5,475.8 644.0,473.8 646.5,471.1 649.0,468.5 651.5,465.7 654.0,462.7 656.5,459.6 659.0,456.1 661.5,452.4 664.0,449.0 666.5,446.9 669.0,445.9 671.5,445.1 674.0,444.5 676.5,444.1 679.0,444.8 681.5,448.1 684.0,451.4 686.5,451.8 689.0,449.2 691.5,445.4 694.0,442.2 696.5,439.7 699.0,437.3 701.5,434.8 704.0,431.9 706.5,428.7 709.0,425.9 711.5,423.7 714.0,421.5 716.5,420.2 719.0,421.7 721.5,429.4 724.0,435.4 726.5,440.0 729.0,441.3 731.5,439.3 734.0,436.2 736.5,433.2 739.0,430.7 741.5,428.1 744.0,425.8 746.5,423.8 749.0,422.4 751.5,420.7 754.0,419.2 756.5,416.6 759.0,410.2 761.5,398.6 764.0,388.9 766.5,379.9 769.0,367.3 771.5,359.3 774.0,360.4 776.5,363.0 779.0,365.3 781.5,366.7 784.0,368.0 786.5,368.8 789.0,365.6 791.5,347.9 794.0,343.7 796.5,341.4 799.0,339.6 801.5,337.4 804.0,334.3 806.5,331.1 809.0,328.3 811.5,327.0 814.0,327.5 816.5,328.9 819.0,330.7 821.5,334.0 824.0,338.6 826.5,342.4 829.0,343.3 831.5,341.4 834.0,338.0 836.5,334.3 839.0,330.9 841.5,328.3 844.0,325.8 846.5,323.2 849.0,320.9 851.5,318.4 854.0,315.5 856.5,312.2 859.0,309.9 861.5,309.7 864.0,309.9 866.5,310.5 869.0,311.5 871.5,311.0 874.0,311.3 876.5,311.5 879.0,311.5 881.5,310.8 884.0,309.6 886.5,308.0 889.0,306.2 891.5,303.6 894.0,299.6 896.5,295.3 899.0,291.5 901.5,289.7 904.0,290.0 906.5,291.5 909.0,293.1 911.5,295.4 914.0,296.7 916.5,297.3 919.0,297.8 921.5,298.2 924.0,298.4 926.5,298.7 929.0,298.8 931.5,296.9 934.0,291.7 936.5,286.2 939.0,280.3 941.5,274.1 944.0,271.4 946.5,271.6 949.0,272.0 951.5,272.9 954.0,273.3 956.5,274.2 959.0,275.2 961.5,277.3 964.0,280.1 966.5,282.8 969.0,284.2 971.5,284.1 974.0,283.9 976.5,284.0 979.0,284.6 981.5,283.4 984.0,282.5 986.5,282.3 989.0,282.5 991.5,283.6 994.0,285.3 996.5,288.0 999.0,290.5 1001.5,292.7 1004.0,294.6 1006.5,296.8 1009.0,298.8 1011.5,300.3 1014.0,300.4 1016.5,297.6 1019.0,292.8 1021.5,288.2 1024.0,286.0 1026.5,287.8 1029.0,292.8 1031.5,299.3 1034.0,305.8 1036.5,315.2 1039.0,323.8 1041.5,325.9 1044.0,322.8 1046.5,317.4 1049.0,311.4 1051.5,305.1 1054.0,298.2 1056.5,297.5 1059.0,301.5 1061.5,306.6 1064.0,309.6 1066.5,308.6 1069.0,305.5 1071.5,301.9 1074.0,299.2 1076.5,299.1 1079.0,301.7 1081.5,306.3 1084.0,312.1 1086.5,322.7 1089.0,337.4 1091.5,344.6 1094.0,349.1 1096.5,349.8 1099.0,349.4 1101.5,348.8 1104.0,348.2 1106.5,348.0 1109.0,351.4 1111.5,358.7 1114.0,366.5 1116.5,371.6 1119.0,375.5 1121.5,378.8 1124.0,382.0 1126.5,384.9 1129.0,387.6 1131.5,390.1 1134.0,392.3 1136.5,395.6 1139.0,399.5 1141.5,401.4 1144.0,402.4 1146.5,404.8 1149.0,408.1 1151.5,411.9 1154.0,416.8 1156.5,422.2 1159.0,427.5 1161.5,432.8 1164.0,438.4 1166.5,443.3 1169.0,447.0 1171.5,449.8 1174.0,452.2 1176.5,454.4 1179.0,456.7 1181.5,459.2 1184.0,461.7 1186.5,464.3 1189.0,466.8 1191.5,469.2 1194.0,471.2 1196.5,473.5 1199.0,476.5 1201.5,483.1 1204.0,491.7 1206.5,496.7 1209.0,500.3 1211.5,503.7 1214.0,507.4 1216.5,511.2 1219.0,514.9 1221.5,518.3 1224.0,521.7 1226.5,525.1 1229.0,528.9 1231.5,533.1 1234.0,537.6 1236.5,542.9 1239.0,547.6 1241.5,552.6 1244.0,557.9 1246.5,563.4 1249.0,569.5 1251.5,575.7 1254.0,582.4 1256.5,588.5 1259.0,593.9 1261.5,598.5 1264.0,602.7 1266.5,606.5 1269.0,610.0 1271.5,613.3 1274.0,616.3 1276.5,619.1 1279.0,621.8 1281.5,624.4 1284.0,626.8 1286.5,629.2 1289.0,631.7 1291.5,634.2 1294.0,636.6 1296.5,639.2 1299.0,641.7 1301.5,644.2 1304.0,646.7 1306.5,649.2 1309.0,651.7 1311.5,654.2 1314.0,656.5 1316.5,658.8 1319.0,661.3 1321.5,664.2 1324.0,667.7 1326.5,672.0 1329.0,677.4 1331.5,685.2 1334.0,693.9 1336.5,701.3 1339.0,706.6 1341.5,711.3 1344.0,716.7 1346.5,724.3 1349.0,744.2 1351.5,763.2 1354.0,762.4 1356.5,757.2 1359.0,750.6 1361.5,743.6 1364.0,736.7 1366.5,737.5 1369.0,740.4 1371.5,744.7 1374.0,750.0 1376.5,755.6 1379.0,764.1 1381.5,776.3 1384.0,788.3 1386.5,796.0 1389.0,796.4 1391.5,793.7 1394.0,790.9 1396.5,790.3 1399.0,795.1 1401.5,801.7 1404.0,805.1 1406.5,803.0 1409.0,798.7 1411.5,795.7 1414.0,795.6 1416.5,795.9 1419.0,796.5 1421.5,798.4 1424.0,807.7 1426.5,820.1 1429.0,828.7 1431.5,828.6 1434.0,823.5 1436.5,817.4 1439.0,813.7 1441.5,811.1 1444.0,809.4 1446.5,812.5 1449.0,828.2 1451.5,844.0 1454.0,862.1 1456.5,875.0 1459.0,874.6 1461.5,867.6 1464.0,859.4 1466.5,854.5 1469.0,855.6 1471.5,859.4 1474.0,863.4 1476.5,865.3 1479.0,860.8 1481.5,850.5 1484.0,839.3 1486.5,831.9 1489.0,832.6 1491.5,839.8 1494.0,848.6 1496.5,854.0 1499.0,853.9 1501.5,852.8 1504.0,851.8 1506.5,852.5 1509.0,858.5 1511.5,866.7 1514.0,873.2 1516.5,878.8 1519.0,881.7 1521.0,876.2"/>
<polyline id="c5" points="229.0,665.3 231.5,664.4 234.0,663.5 236.5,663.0 239.0,662.1 241.5,661.3 244.0,662.0 246.5,663.1 249.0,662.6 251.5,661.0 254.0,660.1 256.5,660.0 259.0,660.0 261.5,660.1 264.0,660.4 266.5,661.1 269.0,662.1 271.5,662.8 274.0,663.8 276.5,665.6 279.0,666.9 281.5,667.1 284.0,667.1 286.5,667.6 289.0,667.7 291.5,667.5 294.0,666.9 296.5,666.6 299.0,666.1 301.5,664.1 304.0,660.8 306.5,658.3 309.0,657.4 311.5,657.1 314.0,656.1 316.5,653.7 319.0,651.2 321.5,649.6 324.0,648.3 326.5,646.7 329.0,645.5 331.5,644.4 334.0,643.3 336.5,641.8 339.0,639.6 341.5,638.3 344.0,638.4 346.5,638.5 349.0,637.5 351.5,635.9 354.0,635.2 356.5,635.8 359.0,636.1 361.5,634.8 364.0,632.8 366.5,631.5 369.0,630.8 371.5,630.1 374.0,629.5 376.5,628.9 379.0,628.7 381.5,628.0 384.0,626.2 386.5,624.5 389.0,624.6 391.5,625.6 394.0,625.7 396.5,624.6 399.0,623.8 401.5,623.6 404.0,623.3 406.5,622.9 409.0,622.5 411.5,622.2 414.0,621.9 416.5,620.7 419.0,619.4 421.5,620.2 424.0,620.6 426.5,620.3 429.0,619.8 431.5,619.3 434.0,618.8 436.5,618.4 439.0,618.9 441.5,619.4 444.0,618.0 446.5,614.8 449.0,613.2 451.5,612.8 454.0,612.2 456.5,611.0 459.0,609.8 461.5,607.8 464.0,605.7 466.5,604.1 469.0,603.0 471.5,602.0 474.0,601.3 476.5,600.3 479.0,598.6 481.5,597.6 484.0,598.7 486.5,599.7 489.0,598.9 491.5,597.0 494.0,595.8 496.5,594.8 499.0,593.7 501.5,592.2 504.0,590.4 506.5,588.8 509.0,586.9 511.5,585.1 514.0,583.1 516.5,580.9 519.0,579.2 521.5,576.4 524.0,574.5 526.5,573.1 529.0,572.1 531.5,571.4 534.0,570.8 536.5,571.0 539.0,570.2 541.5,569.1 544.0,568.2 546.5,567.0 549.0,564.1 551.5,559.6 554.0,554.5 556.5,549.7 559.0,546.2 561.5,544.3 564.0,542.8 566.5,541.8 569.0,542.0 571.5,539.9 574.0,538.5 576.5,538.1 579.0,538.0 581.5,538.5 584.0,539.2 586.5,539.8 589.0,540.0 591.5,539.7 594.0,539.0 596.5,538.0 599.0,536.6 601.5,532.1 604.0,525.8 606.5,520.7 609.0,519.7 611.5,521.7 614.0,524.6 616.5,526.9 619.0,527.0 621.5,524.5 624.0,520.0 626.5,514.3 629.0,508.2 631.5,502.3 634.0,496.5 636.5,489.6 639.0,484.0 641.5,481.8 644.0,480.3 646.5,479.4 649.0,478.2 651.5,477.6 654.0,477.5 656.5,478.6 659.0,480.4 661.5,482.1 664.0,482.9 666.5,481.1 669.0,476.8 671.5,471.8 674.0,466.9 676.5,460.9 679.0,456.6 681.5,456.8 684.0,460.4 686.5,465.3 689.0,469.4 691.5,473.8 694.0,477.5 696.5,478.9 699.0,476.5 701.5,471.4 704.0,464.8 706.5,453.0 709.0,438.5 711.5,429.5 714.0,423.3 716.5,422.9 719.0,423.8 721.5,424.9 724.0,425.7 726.5,426.5 729.0,427.3 731.5,427.8 734.0,428.0 736.5,427.1 739.0,425.2 741.5,422.9 744.0,419.6 746.5,415.0 749.0,411.1 751.5,409.0 754.0,407.2 756.5,405.5 759.0,404.9 761.5,403.6 764.0,402.2 766.5,401.5 769.0,401.0 771.5,400.7 774.0,400.5 776.5,400.9 779.0,400.6 781.5,400.0 784.0,399.7 786.5,399.3 789.0,398.2 791.5,396.4 794.0,394.3 796.5,391.2 799.0,388.6 801.5,385.9 804.0,383.4 806.5,380.5 809.0,377.7 811.5,375.4 814.0,371.8 816.5,368.2 819.0,366.0 821.5,364.9 824.0,365.1 826.5,368.1 829.0,372.4 831.5,376.1 834.0,377.3 836.5,372.9 839.0,364.2 841.5,354.9 844.0,348.8 846.5,347.5 849.0,346.8 851.5,346.4 854.0,347.8 856.5,351.7 859.0,354.9 861.5,355.3 864.0,355.3 866.5,355.2 869.0,355.4 871.5,355.5 874.0,355.3 876.5,355.3 879.0,355.0 881.5,351.0 884.0,345.2 886.5,341.1 889.0,340.8 891.5,341.1 894.0,342.0 896.5,342.7 899.0,343.1 901.5,343.7 904.0,344.1 906.5,344.4 909.0,344.1 911.5,342.8 914.0,340.1 916.5,337.7 919.0,335.5 921.5,333.2 924.0,331.6 926.5,330.4 929.0,329.2 931.5,327.6 934.0,326.9 936.5,326.7 939.0,325.6 941.5,324.7 944.0,324.4 946.5,324.4 949.0,325.3 951.5,327.3 954.0,329.5 956.5,331.8 959.0,333.8 961.5,335.8 964.0,337.8 966.5,339.8 969.0,340.7 971.5,340.3 974.0,339.0 976.5,337.5 979.0,335.5 981.5,334.0 984.0,333.4 986.5,335.2 989.0,338.9 991.5,340.7 994.0,339.9 996.5,338.1 999.0,336.0 1001.5,334.2 1004.0,333.4 1006.5,334.2 1009.0,336.4 1011.5,338.8 1014.0,340.5 1016.5,340.2 1019.0,337.8 1021.5,334.9 1024.0,333.4 1026.5,336.1 1029.0,342.6 1031.5,348.2 1034.0,351.9 1036.5,355.3 1039.0,358.2 1041.5,360.4 1044.0,361.7 1046.5,362.6 1049.0,363.3 1051.5,364.0 1054.0,364.9 1056.5,366.0 1059.0,367.3 1061.5,368.5 1064.0,369.9 1066.5,371.3 1069.0,372.8 1071.5,373.7 1074.0,375.9 1076.5,377.6 1079.0,379.3 1081.5,381.1 1084.0,383.0 1086.5,385.0 1089.0,386.5 1091.5,389.0 1094.0,391.2 1096.5,393.3 1099.0,395.3 1101.5,397.0 1104.0,398.6 1106.5,400.6 1109.0,403.0 1111.5,406.2 1114.0,412.2 1116.5,421.8 1119.0,432.6 1121.5,445.9 1124.0,456.3 1126.5,461.3 1129.0,465.2 1131.5,467.9 1134.0,468.6 1136.5,463.4 1139.0,457.8 1141.5,456.7 1144.0,455.9 1146.5,455.3 1149.0,455.0 1151.5,455.0 1154.0,455.3 1156.5,455.5 1159.0,456.6 1161.5,457.7 1164.0,458.5 1166.5,459.7 1169.0,461.1 1171.5,464.0 1174.0,467.9 1176.5,472.0 1179.0,475.9 1181.5,480.3 1184.0,484.5 1186.5,488.0 1189.0,490.6 1191.5,492.8 1194.0,495.1 1196.5,496.7 1199.0,499.0 1201.5,501.7 1204.0,504.7 1206.5,507.7 1209.0,511.4 1211.5,515.0 1214.0,518.6 1216.5,522.2 1219.0,525.9 1221.5,530.1 1224.0,535.0 1226.5,537.9 1229.0,541.3 1231.5,544.9 1234.0,548.3 1236.5,551.6 1239.0,554.6 1241.5,558.2 1244.0,561.3 1246.5,563.2 1249.0,565.3 1251.5,568.6 1254.0,572.1 1256.5,575.3 1259.0,578.6 1261.5,582.1 1264.0,585.9 1266.5,589.6 1269.0,594.3 1271.5,599.0 1274.0,602.4 1276.5,606.2 1279.0,610.4 1281.5,614.5 1284.0,618.9 1286.5,623.1 1289.0,627.8 1291.5,632.2 1294.0,636.0 1296.5,639.3 1299.0,642.1 1301.5,644.6 1304.0,646.8 1306.5,649.2 1309.0,651.6 1311.5,653.8 1314.0,656.1 1316.5,658.8 1319.0,662.4 1321.5,668.0 1324.0,674.2 1326.5,679.3 1329.0,682.1 1331.5,684.1 1334.0,685.7 1336.5,687.2 1339.0,688.7 1341.5,690.4 1344.0,692.2 1346.5,694.0 1349.0,696.0 1351.5,698.0 1354.0,700.4 1356.5,703.3 1359.0,707.1 1361.5,710.9 1364.0,715.7 1366.5,719.4 1369.0,722.2 1371.5,724.2 1374.0,725.8 1376.5,727.2 1379.0,728.9 1381.5,730.7 1384.0,733.2 1386.5,736.6 1389.0,740.5 1391.5,743.5 1394.0,745.7 1396.5,746.2 1399.0,745.6 1401.5,744.8 1404.0,743.9 1406.5,743.5 1409.0,744.5 1411.5,747.2 1414.0,750.8 1416.5,754.4 1419.0,757.2 1421.5,760.0 1424.0,762.5 1426.5,765.3 1429.0,767.7 1431.5,769.6 1434.0,771.3 1436.5,773.0 1439.0,774.6 1441.5,775.7 1444.0,777.0 1446.5,777.6 1449.0,777.7 1451.5,777.6 1454.0,777.2 1456.5,776.6 1459.0,776.8 1461.5,776.6 1464.0,776.3 1466.5,776.1 1469.0,775.8 1471.5,775.3 1474.0,775.2 1476.5,775.0 1479.0,775.2 1481.5,776.5 1484.0,778.7 1486.5,781.1 1489.0,783.3 1491.5,785.5 1494.0,787.8 1496.5,789.5 1499.0,790.0 1501.5,790.0 1504.0,790.0 1506.5,790.0 1509.0,789.9 1511.5,788.8 1514.0,787.2 1516.5,784.0 1519.0,780.6 1521.0,777.7"/>
<polyline id="c6" points="229.0,645.0 231.5,645.0 234.0,644.9 236.5,643.8 239.0,643.4 241.5,644.5 244.0,646.2 246.5,646.3 249.0,644.9 251.5,643.3 254.0,642.5 256.5,642.4 259.0,642.4 261.5,641.8 264.0,640.4 266.5,639.2 269.0,638.8 271.5,639.2 274.0,639.5 276.5,638.6 279.0,636.3 281.5,633.5 284.0,631.5 286.5,631.7 289.0,632.9 291.5,633.1 294.0,632.2 296.5,631.2 299.0,630.3 301.5,629.5 304.0,628.3 306.5,627.3 309.0,625.7 311.5,622.8 314.0,618.9 316.5,616.3 319.0,616.3 321.5,616.7 324.0,615.8 326.5,613.9 329.0,612.3 331.5,611.1 334.0,610.1 336.5,609.1 339.0,608.4 341.5,607.8 344.0,606.7 346.5,605.4 349.0,604.9 351.5,605.4 354.0,605.9 356.5,604.7 359.0,602.8 361.5,601.5 364.0,601.3 366.5,600.5 369.0,599.6 371.5,598.7 374.0,597.6 376.5,596.8 379.0,596.0 381.5,595.4 384.0,595.1 386.5,593.4 389.0,590.8 391.5,588.5 394.0,587.4 396.5,586.8 399.0,586.0 401.5,585.4 404.0,584.9 406.5,584.4 409.0,584.0 411.5,583.4 414.0,582.7 416.5,582.0 419.0,581.1 421.5,579.7 424.0,577.6 426.5,575.6 429.0,574.2 431.5,573.6 434.0,573.3 436.5,573.0 439.0,572.6 441.5,571.8 444.0,569.2 446.5,565.7 449.0,563.2 451.5,561.4 454.0,559.8 456.5,558.8 459.0,558.5 461.5,559.4 464.0,560.9 466.5,562.1 469.0,562.4 471.5,561.9 474.0,561.2 476.5,560.1 479.0,558.8 481.5,556.3 484.0,553.2 486.5,550.5 489.0,549.0 491.5,547.9 494.0,547.0 496.5,546.1 499.0,545.1 501.5,544.2 504.0,543.2 506.5,542.1 509.0,540.8 511.5,539.0 514.0,537.4 516.5,535.8 519.0,533.1 521.5,529.2 524.0,526.7 526.5,525.7 529.0,524.9 531.5,524.1 534.0,524.0 536.5,524.2 539.0,524.4 541.5,524.3 544.0,523.6 546.5,522.4 549.0,520.9 551.5,518.7 554.0,514.6 556.5,510.0 559.0,506.4 561.5,504.4 564.0,502.9 566.5,501.6 569.0,500.2 571.5,498.8 574.0,497.4 576.5,496.1 579.0,494.6 581.5,492.8 584.0,490.4 586.5,487.6 589.0,485.3 591.5,484.2 594.0,483.5 596.5,483.0 599.0,482.6 601.5,482.6 604.0,482.6 606.5,482.6 609.0,482.6 611.5,482.4 614.0,481.2 616.5,479.3 619.0,477.3 621.5,475.5 624.0,473.7 626.5,471.6 629.0,469.4 631.5,466.6 634.0,463.3 636.5,460.1 639.0,457.3 641.5,454.3 644.0,451.4 646.5,449.0 649.0,447.3 651.5,446.8 654.0,446.8 656.5,446.8 659.0,446.8 661.5,446.8 664.0,446.2 666.5,444.0 669.0,440.5 671.5,436.9 674.0,433.4 676.5,430.6 679.0,427.8 681.5,425.2 684.0,422.6 686.5,420.4 689.0,418.5 691.5,416.8 694.0,415.2 696.5,413.5 699.0,412.5 701.5,411.3 704.0,409.8 706.5,408.1 709.0,405.7 711.5,403.0 714.0,399.9 716.5,397.6 719.0,396.0 721.5,395.8 724.0,397.3 726.5,399.7 729.0,402.3 731.5,404.3 734.0,404.7 736.5,402.2 739.0,397.8 741.5,393.4 744.0,390.1 746.5,386.8 749.0,383.8 751.5,381.7 754.0,381.1 756.5,381.4 759.0,382.1 761.5,382.6 764.0,382.9 766.5,381.8 769.0,378.2 771.5,372.9 774.0,368.3 776.5,364.4 779.0,362.8 781.5,362.8 784.0,362.8 786.5,363.6 789.0,362.8 791.5,362.8 794.0,362.8 796.5,363.7 799.0,365.2 801.5,366.3 804.0,366.2 806.5,364.3 809.0,361.1 811.5,357.2 814.0,353.6 816.5,350.3 819.0,348.3 821.5,347.0 824.0,345.9 826.5,344.4 829.0,343.1 831.5,343.1 834.0,343.2 836.5,342.2 839.0,341.3 841.5,341.1 844.0,341.0 846.5,340.9 849.0,340.7 851.5,340.2 854.0,340.6 856.5,340.8 859.0,340.7 861.5,340.6 864.0,340.2 866.5,340.1 869.0,340.5 871.5,339.9 874.0,337.5 876.5,336.2 879.0,335.8 881.5,335.4 884.0,335.3 886.5,336.2 889.0,338.0 891.5,340.1 894.0,341.9 896.5,342.6 899.0,341.9 901.5,340.1 904.0,337.6 906.5,335.6 909.0,333.9 911.5,333.4 914.0,334.4 916.5,336.3 919.0,338.3 921.5,340.0 924.0,340.7 926.5,340.2 929.0,338.9 931.5,336.9 934.0,334.7 936.5,333.5 939.0,332.3 941.5,331.6 944.0,332.3 946.5,334.8 949.0,338.1 951.5,341.0 954.0,344.0 956.5,346.8 959.0,348.1 961.5,348.5 964.0,348.8 966.5,348.9 969.0,348.7 971.5,349.0 974.0,349.5 976.5,349.7 979.0,349.9 981.5,350.2 984.0,350.5 986.5,350.2 989.0,350.1 991.5,351.4 994.0,352.1 996.5,352.8 999.0,353.6 1001.5,356.3 1004.0,360.1 1006.5,363.0 1009.0,365.0 1011.5,366.6 1014.0,367.5 1016.5,368.6 1019.0,371.0 1021.5,372.7 1024.0,374.8 1026.5,377.7 1029.0,381.3 1031.5,385.2 1034.0,388.8 1036.5,391.6 1039.0,394.1 1041.5,396.4 1044.0,398.5 1046.5,400.3 1049.0,401.7 1051.5,402.9 1054.0,403.8 1056.5,404.8 1059.0,405.8 1061.5,407.0 1064.0,408.5 1066.5,410.0 1069.0,411.8 1071.5,413.7 1074.0,415.9 1076.5,418.4 1079.0,421.1 1081.5,423.8 1084.0,426.3 1086.5,428.7 1089.0,431.2 1091.5,433.5 1094.0,436.0 1096.5,438.7 1099.0,441.8 1101.5,445.4 1104.0,449.1 1106.5,452.3 1109.0,454.8 1111.5,456.7 1114.0,458.4 1116.5,459.9 1119.0,461.3 1121.5,462.6 1124.0,463.7 1126.5,464.8 1129.0,466.2 1131.5,468.0 1134.0,470.4 1136.5,473.4 1139.0,476.6 1141.5,479.8 1144.0,483.0 1146.5,486.2 1149.0,489.7 1151.5,493.4 1154.0,498.0 1156.5,503.5 1159.0,508.6 1161.5,512.3 1164.0,514.7 1166.5,516.6 1169.0,518.3 1171.5,520.0 1174.0,522.2 1176.5,524.7 1179.0,527.4 1181.5,530.5 1184.0,533.5 1186.5,536.5 1189.0,539.4 1191.5,542.3 1194.0,545.2 1196.5,548.2 1199.0,551.4 1201.5,554.9 1204.0,558.4 1206.5,561.7 1209.0,564.5 1211.5,566.8 1214.0,568.6 1216.5,570.6 1219.0,572.4 1221.5,574.8 1224.0,578.2 1226.5,583.7 1229.0,589.3 1231.5,592.3 1234.0,594.0 1236.5,595.3 1239.0,596.8 1241.5,598.8 1244.0,602.5 1246.5,606.9 1249.0,610.0 1251.5,611.8 1254.0,613.1 1256.5,614.5 1259.0,616.3 1261.5,619.6 1264.0,624.1 1266.5,627.5 1269.0,628.7 1271.5,629.4 1274.0,630.0 1276.5,630.8 1279.0,632.6 1281.5,636.7 1284.0,641.0 1286.5,643.8 1289.0,645.8 1291.5,647.6 1294.0,649.6 1296.5,652.1 1299.0,655.7 1301.5,660.2 1304.0,664.3 1306.5,667.5 1309.0,669.4 1311.5,670.8 1314.0,672.0 1316.5,673.2 1319.0,674.7 1321.5,676.8 1324.0,679.4 1326.5,682.2 1329.0,684.5 1331.5,686.1 1334.0,687.5 1336.5,688.8 1339.0,690.2 1341.5,691.9 1344.0,694.4 1346.5,697.6 1349.0,700.8 1351.5,703.4 1354.0,705.1 1356.5,706.5 1359.0,707.7 1361.5,709.2 1364.0,711.5 1366.5,714.3 1369.0,717.2 1371.5,719.4 1374.0,720.2 1376.5,720.0 1379.0,719.4 1381.5,718.6 1384.0,717.8 1386.5,716.9 1389.0,715.7 1391.5,714.5 1394.0,713.6 1396.5,713.6 1399.0,716.1 1401.5,720.3 1404.0,724.3 1406.5,728.0 1409.0,731.9 1411.5,734.8 1414.0,736.3 1416.5,737.3 1419.0,738.1 1421.5,738.8 1424.0,739.7 1426.5,740.5 1429.0,741.4 1431.5,742.1 1434.0,742.9 1436.5,743.8 1439.0,744.5 1441.5,744.9 1444.0,744.9 1446.5,744.9 1449.0,744.9 1451.5,744.9 1454.0,744.8 1456.5,743.8 1459.0,742.0 1461.5,740.2 1464.0,739.4 1466.5,739.4 1469.0,739.4 1471.5,739.0 1474.0,739.4 1476.5,739.4 1479.0,739.3 1481.5,738.9 1484.0,738.3 1486.5,737.5 1489.0,736.9 1491.5,736.6 1494.0,737.3 1496.5,738.9 1499.0,740.8 1501.5,742.0 1504.0,741.9 1506.5,740.7 1509.0,738.9 1511.5,737.0 1514.0,735.3 1516.5,733.5 1519.0,731.5 1521.0,729.8"/>
<polyline id="c7" points="229.0,660.0 231.5,659.8 234.0,659.6 236.5,660.7 239.0,660.3 241.5,658.6 244.0,657.1 246.5,656.9 249.0,656.7 251.5,655.8 254.0,655.0 256.5,655.3 259.0,655.9 261.5,655.6 264.0,655.2 266.5,654.7 269.0,654.2 271.5,653.4 274.0,651.8 276.5,651.1 279.0,652.0 281.5,653.2 284.0,652.6 286.5,650.4 289.0,648.5 291.5,647.7 294.0,647.0 296.5,646.1 299.0,645.3 301.5,644.5 304.0,643.6 306.5,642.1 309.0,641.4 311.5,642.8 314.0,644.8 316.5,644.0 319.0,640.7 321.5,637.5 324.0,635.5 326.5,634.7 329.0,633.7 331.5,632.4 334.0,631.7 336.5,631.2 339.0,630.3 341.5,629.5 344.0,628.8 346.5,628.6 349.0,628.1 351.5,625.9 354.0,623.6 356.5,623.4 359.0,625.0 361.5,625.2 364.0,624.1 366.5,622.8 369.0,622.0 371.5,621.2 374.0,620.3 376.5,619.5 379.0,618.5 381.5,616.1 384.0,612.7 386.5,610.6 389.0,612.4 391.5,615.4 394.0,617.0 396.5,616.1 399.0,613.2 401.5,610.3 404.0,608.5 406.5,607.5 409.0,606.0 411.5,603.2 414.0,599.9 416.5,597.7 419.0,597.9 421.5,599.9 424.0,601.6 426.5,601.2 429.0,598.2 431.5,594.5 434.0,592.8 436.5,592.6 439.0,592.3 441.5,591.3 444.0,590.4 446.5,589.5 449.0,588.6 451.5,587.9 454.0,587.7 456.5,587.6 459.0,585.7 461.5,581.6 464.0,578.1 466.5,577.2 469.0,579.2 471.5,582.4 474.0,584.4 476.5,583.4 479.0,580.8 481.5,578.8 484.0,577.5 486.5,576.4 489.0,575.4 491.5,574.4 494.0,573.2 496.5,571.3 499.0,569.3 501.5,569.1 504.0,570.2 506.5,569.9 509.0,566.8 511.5,563.0 514.0,561.0 516.5,560.4 519.0,559.6 521.5,558.2 524.0,557.0 526.5,555.9 529.0,554.9 531.5,554.3 534.0,554.5 536.5,554.7 539.0,552.8 541.5,548.5 544.0,544.7 546.5,543.2 549.0,544.7 551.5,547.5 554.0,549.2 556.5,548.1 559.0,545.6 561.5,543.3 564.0,541.2 566.5,539.4 569.0,537.3 571.5,531.8 574.0,531.3 576.5,531.7 579.0,532.2 581.5,533.4 584.0,535.1 586.5,536.6 589.0,537.1 591.5,536.8 594.0,536.3 596.5,535.6 599.0,535.0 601.5,534.4 604.0,533.7 606.5,532.9 609.0,531.6 611.5,528.9 614.0,527.3 616.5,527.3 619.0,527.3 621.5,527.3 624.0,527.2 626.5,526.3 629.0,524.0 631.5,522.2 634.0,519.3 636.5,515.9 639.0,509.7 641.5,504.6 644.0,501.6 646.5,499.1 649.0,496.6 651.5,494.2 654.0,491.8 656.5,489.1 659.0,486.2 661.5,482.9 664.0,479.1 666.5,473.6 669.0,467.0 671.5,462.1 674.0,460.0 676.5,458.5 679.0,457.6 681.5,457.6 684.0,458.0 686.5,458.6 689.0,459.5 691.5,460.4 694.0,462.4 696.5,464.5 699.0,465.5 701.5,464.7 704.0,462.9 706.5,461.2 709.0,460.1 711.5,460.1 714.0,460.1 716.5,460.1 719.0,459.8 721.5,458.0 724.0,455.8 726.5,454.4 729.0,453.3 731.5,452.4 734.0,452.1 736.5,454.4 739.0,458.0 741.5,460.1 744.0,459.2 746.5,456.8 749.0,453.5 751.5,450.4 754.0,447.5 756.5,444.3 759.0,441.8 761.5,441.4 764.0,441.4 766.5,441.4 769.0,441.4 771.5,440.1 774.0,437.6 776.5,434.3 779.0,430.9 781.5,427.5 784.0,423.5 786.5,419.1 789.0,414.8 791.5,412.7 794.0,411.2 796.5,410.1 799.0,409.1 801.5,408.6 804.0,408.9 806.5,408.3 809.0,406.6 811.5,405.0 814.0,403.8 816.5,402.3 819.0,399.8 821.5,397.0 824.0,394.8 826.5,393.9 829.0,394.2 831.5,395.0 834.0,395.5 836.5,396.9 839.0,398.2 841.5,399.0 844.0,399.5 846.5,399.8 849.0,399.9 851.5,400.5 854.0,400.9 856.5,400.8 859.0,401.1 861.5,401.4 864.0,402.0 866.5,402.5 869.0,402.9 871.5,402.9 874.0,401.4 876.5,398.3 879.0,395.0 881.5,392.3 884.0,390.5 886.5,388.8 889.0,388.2 891.5,385.9 894.0,385.0 896.5,384.7 899.0,386.1 901.5,388.9 904.0,391.4 906.5,392.0 909.0,391.5 911.5,390.7 914.0,389.6 916.5,389.0 919.0,388.5 921.5,388.5 924.0,389.2 926.5,389.9 929.0,391.2 931.5,391.9 934.0,391.7 936.5,388.5 939.0,383.6 941.5,379.2 944.0,377.4 946.5,379.0 949.0,382.3 951.5,385.9 954.0,388.2 956.5,387.9 959.0,385.5 961.5,382.4 964.0,380.0 966.5,379.4 969.0,380.8 971.5,383.6 974.0,386.7 976.5,389.9 979.0,393.2 981.5,397.2 984.0,400.3 986.5,401.2 989.0,400.7 991.5,399.7 994.0,398.6 996.5,397.8 999.0,397.5 1001.5,398.7 1004.0,401.0 1006.5,403.4 1009.0,404.7 1011.5,404.7 1014.0,404.4 1016.5,405.1 1019.0,403.6 1021.5,403.2 1024.0,403.0 1026.5,403.8 1029.0,406.1 1031.5,408.9 1034.0,411.3 1036.5,412.7 1039.0,413.6 1041.5,414.1 1044.0,415.1 1046.5,415.7 1049.0,416.5 1051.5,417.6 1054.0,419.5 1056.5,422.2 1059.0,424.4 1061.5,424.8 1064.0,424.1 1066.5,422.9 1069.0,421.8 1071.5,421.2 1074.0,421.8 1076.5,423.4 1079.0,425.6 1081.5,427.7 1084.0,429.4 1086.5,430.8 1089.0,432.2 1091.5,433.9 1094.0,436.3 1096.5,441.6 1099.0,448.4 1101.5,453.4 1104.0,452.9 1106.5,446.1 1109.0,439.1 1111.5,436.7 1114.0,435.3 1116.5,434.4 1119.0,434.0 1121.5,434.2 1124.0,434.9 1126.5,436.5 1129.0,437.0 1131.5,438.3 1134.0,439.7 1136.5,441.1 1139.0,442.7 1141.5,445.0 1144.0,447.7 1146.5,451.8 1149.0,458.6 1151.5,466.9 1154.0,479.3 1156.5,492.6 1159.0,494.5 1161.5,494.7 1164.0,494.9 1166.5,495.1 1169.0,495.5 1171.5,496.2 1174.0,497.5 1176.5,499.4 1179.0,500.3 1181.5,501.8 1184.0,503.3 1186.5,504.7 1189.0,506.2 1191.5,508.0 1194.0,510.1 1196.5,512.8 1199.0,517.4 1201.5,522.8 1204.0,527.2 1206.5,529.9 1209.0,532.1 1211.5,534.7 1214.0,536.1 1216.5,536.0 1219.0,536.2 1221.5,539.0 1224.0,541.4 1226.5,542.7 1229.0,544.0 1231.5,545.8 1234.0,547.9 1236.5,550.2 1239.0,552.8 1241.5,555.7 1244.0,557.5 1246.5,557.9 1249.0,559.2 1251.5,564.0 1254.0,571.0 1256.5,577.3 1259.0,580.3 1261.5,581.8 1264.0,583.5 1266.5,586.2 1269.0,588.9 1271.5,591.6 1274.0,594.2 1276.5,596.4 1279.0,597.7 1281.5,599.3 1284.0,603.0 1286.5,608.9 1289.0,613.8 1291.5,615.3 1294.0,615.2 1296.5,616.2 1299.0,618.5 1301.5,620.6 1304.0,622.3 1306.5,624.0 1309.0,625.6 1311.5,627.3 1314.0,628.9 1316.5,631.1 1319.0,633.9 1321.5,635.2 1324.0,634.2 1326.5,633.0 1329.0,634.2 1331.5,637.0 1334.0,639.1 1336.5,639.7 1339.0,640.0 1341.5,640.0 1344.0,640.0 1346.5,640.1 1349.0,640.2 1351.5,640.2 1354.0,639.4 1356.5,639.2 1359.0,639.0 1361.5,638.7 1364.0,637.7 1366.5,635.9 1369.0,635.0 1371.5,639.2 1374.0,647.5 1376.5,653.6 1379.0,656.6 1381.5,658.9 1384.0,660.9 1386.5,662.8 1389.0,664.4 1391.5,666.0 1394.0,667.7 1396.5,669.8 1399.0,673.0 1401.5,677.2 1404.0,681.4 1406.5,684.7 1409.0,686.1 1411.5,685.3 1414.0,683.4 1416.5,681.3 1419.0,679.7 1421.5,678.1 1424.0,676.8 1426.5,676.5 1429.0,678.6 1431.5,681.7 1434.0,683.3 1436.5,683.1 1439.0,682.7 1441.5,682.3 1444.0,681.9 1446.5,681.9 1449.0,682.3 1451.5,682.8 1454.0,683.6 1456.5,686.5 1459.0,690.2 1461.5,692.8 1464.0,694.1 1466.5,695.1 1469.0,695.6 1471.5,695.3 1474.0,694.2 1476.5,692.8 1479.0,691.7 1481.5,691.5 1484.0,692.1 1486.5,693.0 1489.0,694.3 1491.5,695.6 1494.0,697.0 1496.5,698.9 1499.0,700.6 1501.5,702.2 1504.0,703.8 1506.5,705.0 1509.0,705.0 1511.5,702.9 1514.0,699.6 1516.5,695.6 1519.0,690.0 1521.0,684.6"/>
<polyline id="c8" points="229.0,652.0 231.5,650.4 234.0,648.9 236.5,646.7 239.0,645.0 241.5,645.0 244.0,646.0 246.5,644.2 249.0,640.9 251.5,638.3 254.0,636.8 256.5,635.3 259.0,633.8 261.5,632.4 264.0,630.8 266.5,628.8 269.0,626.6 271.5,625.8 274.0,625.5 276.5,624.2 279.0,622.4 281.5,621.0 284.0,619.5 286.5,617.8 289.0,616.2 291.5,615.4 294.0,615.0 296.5,614.7 299.0,614.5 301.5,613.5 304.0,612.7 306.5,612.8 309.0,613.3 311.5,612.6 314.0,611.0 316.5,610.3 319.0,611.5 321.5,612.9 324.0,612.9 326.5,612.4 329.0,612.1 331.5,611.8 334.0,611.5 336.5,610.9 339.0,610.3 341.5,610.1 344.0,609.3 346.5,607.5 349.0,606.3 351.5,606.7 354.0,608.4 356.5,609.9 359.0,609.6 361.5,607.3 364.0,604.5 366.5,603.6 369.0,603.9 371.5,603.8 374.0,603.0 376.5,602.3 379.0,601.5 381.5,600.5 384.0,599.1 386.5,597.9 389.0,596.8 391.5,595.7 394.0,595.0 396.5,594.7 399.0,594.5 401.5,594.6 404.0,595.0 406.5,595.7 409.0,596.1 411.5,596.4 414.0,595.8 416.5,594.2 419.0,592.2 421.5,590.2 424.0,588.8 426.5,588.2 429.0,587.8 431.5,587.4 434.0,586.7 436.5,585.6 439.0,583.8 441.5,581.4 444.0,578.6 446.5,573.3 449.0,567.3 451.5,564.9 454.0,564.1 456.5,563.5 459.0,563.5 461.5,564.8 464.0,566.9 466.5,568.3 469.0,569.0 471.5,569.7 474.0,570.1 476.5,570.1 479.0,568.2 481.5,564.6 484.0,560.2 486.5,555.8 489.0,549.5 491.5,544.5 494.0,544.1 496.5,545.3 499.0,547.6 501.5,552.1 504.0,556.4 506.5,558.5 509.0,559.5 511.5,550.6 514.0,542.2 516.5,536.2 519.0,530.7 521.5,525.3 524.0,519.0 526.5,513.0 529.0,509.7 531.5,507.7 534.0,505.1 536.5,502.3 539.0,500.7 541.5,500.0 544.0,501.5 546.5,506.5 549.0,513.7 551.5,520.3 554.0,525.4 556.5,527.0 559.0,527.1 561.5,521.3 564.0,500.7 566.5,493.6 569.0,492.7 571.5,492.4 574.0,491.8 576.5,491.2 579.0,490.2 581.5,488.4 584.0,485.8 586.5,482.2 589.0,478.9 591.5,476.7 594.0,474.2 596.5,472.3 599.0,471.0 601.5,470.0 604.0,468.8 606.5,467.5 609.0,467.4 611.5,466.5 614.0,465.4 616.5,463.9 619.0,462.1 621.5,460.1 624.0,457.8 626.5,455.3 629.0,452.6 631.5,449.1 634.0,444.5 636.5,440.7 639.0,439.5 641.5,439.5 644.0,439.5 646.5,439.5 649.0,439.5 651.5,439.5 654.0,436.8 656.5,431.4 659.0,425.0 661.5,419.8 664.0,417.6 666.5,419.0 669.0,421.8 671.5,424.3 674.0,424.8 676.5,423.4 679.0,421.1 681.5,418.3 684.0,415.9 686.5,413.7 689.0,411.3 691.5,408.9 694.0,407.1 696.5,404.5 699.0,402.7 701.5,401.5 704.0,400.8 706.5,400.5 709.0,400.2 711.5,399.8 714.0,398.9 716.5,394.4 719.0,387.3 721.5,380.4 724.0,375.8 726.5,373.8 729.0,372.2 731.5,371.1 734.0,369.9 736.5,368.8 739.0,367.8 741.5,366.9 744.0,366.0 746.5,365.2 749.0,364.1 751.5,362.9 754.0,363.3 756.5,362.7 759.0,361.8 761.5,360.5 764.0,358.4 766.5,355.2 769.0,352.4 771.5,349.7 774.0,347.9 776.5,346.7 779.0,345.8 781.5,344.9 784.0,344.5 786.5,343.9 789.0,342.6 791.5,341.8 794.0,340.8 796.5,339.9 799.0,338.9 801.5,337.2 804.0,336.9 806.5,336.5 809.0,335.0 811.5,333.4 814.0,331.4 816.5,326.0 819.0,321.5 821.5,320.4 824.0,319.8 826.5,319.3 829.0,318.4 831.5,315.4 834.0,307.1 836.5,300.3 839.0,299.7 841.5,300.5 844.0,301.7 846.5,303.3 849.0,308.5 851.5,314.0 854.0,312.2 856.5,306.6 859.0,301.5 861.5,300.1 864.0,299.4 866.5,299.4 869.0,300.3 871.5,298.9 874.0,298.1 876.5,297.5 879.0,296.3 881.5,292.2 884.0,286.8 886.5,282.8 889.0,282.0 891.5,281.6 894.0,281.2 896.5,281.4 899.0,281.1 901.5,280.6 904.0,280.5 906.5,280.6 909.0,281.8 911.5,283.5 914.0,286.0 916.5,288.1 919.0,289.4 921.5,289.5 924.0,288.5 926.5,286.6 929.0,284.5 931.5,283.2 934.0,281.6 936.5,280.5 939.0,279.9 941.5,279.4 944.0,279.0 946.5,278.7 949.0,278.9 951.5,279.8 954.0,281.0 956.5,282.0 959.0,282.3 961.5,281.3 964.0,279.3 966.5,277.3 969.0,275.6 971.5,275.0 974.0,276.6 976.5,280.1 979.0,284.1 981.5,287.2 984.0,288.7 986.5,289.6 989.0,290.4 991.5,291.6 994.0,293.6 996.5,296.3 999.0,299.2 1001.5,301.4 1004.0,302.4 1006.5,301.2 1009.0,298.4 1011.5,295.8 1014.0,295.2 1016.5,297.3 1019.0,301.2 1021.5,307.0 1024.0,316.7 1026.5,318.9 1029.0,320.4 1031.5,321.4 1034.0,322.1 1036.5,322.9 1039.0,323.5 1041.5,323.5 1044.0,323.9 1046.5,324.8 1049.0,325.3 1051.5,326.1 1054.0,327.1 1056.5,328.6 1059.0,331.1 1061.5,333.9 1064.0,335.2 1066.5,337.4 1069.0,339.8 1071.5,342.6 1074.0,346.3 1076.5,350.1 1079.0,352.8 1081.5,353.4 1084.0,351.9 1086.5,349.7 1089.0,348.2 1091.5,348.8 1094.0,352.4 1096.5,357.5 1099.0,364.6 1101.5,374.2 1104.0,379.2 1106.5,382.1 1109.0,384.9 1111.5,386.3 1114.0,388.4 1116.5,391.2 1119.0,394.4 1121.5,397.5 1124.0,401.2 1126.5,405.0 1129.0,408.6 1131.5,412.1 1134.0,415.6 1136.5,419.2 1139.0,423.7 1141.5,427.6 1144.0,430.2 1146.5,433.6 1149.0,437.2 1151.5,441.0 1154.0,445.0 1156.5,449.0 1159.0,452.6 1161.5,455.6 1164.0,458.1 1166.5,460.2 1169.0,462.4 1171.5,464.3 1174.0,466.3 1176.5,468.2 1179.0,470.0 1181.5,472.1 1184.0,475.0 1186.5,479.6 1189.0,484.3 1191.5,487.9 1194.0,490.6 1196.5,493.3 1199.0,496.6 1201.5,502.8 1204.0,511.0 1206.5,515.3 1209.0,514.7 1211.5,513.3 1214.0,512.0 1216.5,511.9 1219.0,513.8 1221.5,517.1 1224.0,520.2 1226.5,523.6 1229.0,527.6 1231.5,532.4 1234.0,538.6 1236.5,545.6 1239.0,552.5 1241.5,558.6 1244.0,564.8 1246.5,570.7 1249.0,576.3 1251.5,581.0 1254.0,584.6 1256.5,587.6 1259.0,590.3 1261.5,593.0 1264.0,596.0 1266.5,599.1 1269.0,602.2 1271.5,605.6 1274.0,609.3 1276.5,614.2 1279.0,619.8 1281.5,624.2 1284.0,626.8 1286.5,628.9 1289.0,631.9 1291.5,637.8 1294.0,645.1 1296.5,650.4 1299.0,654.0 1301.5,657.0 1304.0,659.4 1306.5,661.2 1309.0,662.8 1311.5,665.2 1314.0,668.6 1316.5,672.8 1319.0,677.2 1321.5,682.4 1324.0,687.6 1326.5,691.9 1329.0,695.7 1331.5,699.2 1334.0,703.0 1336.5,706.9 1339.0,710.1 1341.5,712.5 1344.0,714.4 1346.5,716.6 1349.0,718.4 1351.5,720.1 1354.0,722.3 1356.5,725.0 1359.0,728.3 1361.5,731.7 1364.0,734.8 1366.5,737.3 1369.0,739.4 1371.5,741.2 1374.0,743.0 1376.5,744.8 1379.0,746.6 1381.5,748.1 1384.0,749.8 1386.5,752.0 1389.0,755.0 1391.5,759.9 1394.0,765.6 1396.5,771.0 1399.0,777.1 1401.5,782.8 1404.0,785.9 1406.5,786.7 1409.0,787.2 1411.5,787.5 1414.0,788.0 1416.5,788.7 1419.0,790.2 1421.5,792.4 1424.0,795.0 1426.5,797.5 1429.0,801.0 1431.5,804.7 1434.0,807.3 1436.5,807.7 1439.0,807.2 1441.5,806.2 1444.0,804.9 1446.5,800.9 1449.0,795.8 1451.5,793.6 1454.0,792.4 1456.5,791.7 1459.0,791.4 1461.5,794.4 1464.0,800.0 1466.5,804.6 1469.0,806.6 1471.5,808.3 1474.0,809.6 1476.5,810.4 1479.0,810.4 1481.5,809.7 1484.0,808.5 1486.5,806.8 1489.0,805.0 1491.5,801.6 1494.0,797.1 1496.5,794.2 1499.0,794.8 1501.5,797.0 1504.0,799.8 1506.5,802.0 1509.0,804.2 1511.5,806.3 1514.0,808.1 1516.5,809.7 1519.0,811.0 1521.0,811.9"/>
<polyline id="c9" points="229.0,673.0 231.5,672.7 234.0,672.4 236.5,673.0 239.0,671.7 241.5,668.5 244.0,665.9 246.5,667.3 249.0,670.1 251.5,671.5 254.0,670.4 256.5,669.0 259.0,668.7 261.5,668.5 264.0,668.2 266.5,667.8 269.0,667.3 271.5,666.7 274.0,665.5 276.5,665.0 279.0,666.6 281.5,668.8 284.0,668.4 286.5,664.7 289.0,661.5 291.5,660.9 294.0,661.9 296.5,662.1 299.0,662.0 301.5,662.0 304.0,662.0 306.5,662.0 309.0,662.7 311.5,664.9 314.0,667.5 316.5,667.1 319.0,663.6 321.5,659.9 324.0,658.5 326.5,660.2 329.0,663.2 331.5,664.7 334.0,664.3 336.5,663.7 339.0,664.0 341.5,664.1 344.0,664.1 346.5,663.9 349.0,663.6 351.5,662.7 354.0,661.0 356.5,660.4 359.0,661.9 361.5,662.1 364.0,660.4 366.5,658.6 369.0,658.1 371.5,658.0 374.0,661.7 376.5,660.7 379.0,658.1 381.5,654.1 384.0,648.7 386.5,643.0 389.0,639.0 391.5,634.8 394.0,629.4 396.5,625.2 399.0,622.9 401.5,622.1 404.0,621.4 406.5,620.3 409.0,620.1 411.5,620.4 414.0,619.5 416.5,619.0 419.0,618.9 421.5,618.8 424.0,625.3 426.5,625.3 429.0,624.5 431.5,623.0 434.0,620.4 436.5,619.6 439.0,618.3 441.5,616.9 444.0,615.8 446.5,615.0 449.0,614.3 451.5,612.7 454.0,611.1 456.5,610.8 459.0,611.1 461.5,610.3 464.0,608.6 466.5,608.0 469.0,609.7 471.5,611.5 474.0,611.0 476.5,608.9 479.0,607.5 481.5,606.6 484.0,605.7 486.5,604.6 489.0,603.3 491.5,601.9 494.0,600.1 496.5,598.1 499.0,595.3 501.5,590.8 504.0,586.2 506.5,583.1 509.0,581.9 511.5,581.0 514.0,579.6 516.5,579.3 519.0,579.1 521.5,578.9 524.0,588.0 526.5,613.0 529.0,619.5 531.5,623.8 534.0,625.6 536.5,609.7 539.0,580.7 541.5,574.7 544.0,573.4 546.5,572.6 549.0,571.5 551.5,569.7 554.0,567.2 556.5,564.5 559.0,561.9 561.5,559.3 564.0,556.5 566.5,554.7 569.0,555.7 571.5,559.2 574.0,561.4 576.5,560.0 579.0,557.4 581.5,556.5 584.0,557.6 586.5,559.5 589.0,561.7 591.5,565.8 594.0,569.1 596.5,567.4 599.0,561.9 601.5,556.0 604.0,552.1 606.5,548.7 609.0,545.8 611.5,543.3 614.0,541.0 616.5,538.6 619.0,535.7 621.5,531.5 624.0,528.1 626.5,527.5 629.0,529.7 631.5,531.9 634.0,530.3 636.5,522.0 639.0,514.6 641.5,513.8 644.0,514.5 646.5,515.4 649.0,516.1 651.5,516.3 654.0,515.7 656.5,514.6 659.0,513.4 661.5,512.3 664.0,511.4 666.5,510.5 669.0,509.5 671.5,508.6 674.0,507.4 676.5,506.2 679.0,504.9 681.5,503.7 684.0,502.4 686.5,501.3 689.0,500.1 691.5,498.5 694.0,495.8 696.5,492.5 699.0,489.5 701.5,486.3 704.0,483.3 706.5,481.6 709.0,482.0 711.5,483.2 714.0,484.1 716.5,483.9 719.0,482.3 721.5,480.2 724.0,478.1 726.5,475.7 729.0,473.1 731.5,470.2 734.0,467.1 736.5,463.6 739.0,460.1 741.5,455.8 744.0,452.3 746.5,451.3 749.0,450.8 751.5,450.8 754.0,450.8 756.5,450.8 759.0,450.7 761.5,450.3 764.0,449.8 766.5,449.3 769.0,449.0 771.5,448.7 774.0,448.0 776.5,442.1 779.0,435.8 781.5,433.5 784.0,431.9 786.5,429.3 789.0,428.5 791.5,428.8 794.0,427.4 796.5,425.6 799.0,422.0 801.5,415.7 804.0,409.6 806.5,406.6 809.0,406.0 811.5,405.7 814.0,405.5 816.5,405.2 819.0,404.8 821.5,404.2 824.0,403.5 826.5,403.1 829.0,401.6 831.5,400.4 834.0,399.1 836.5,397.1 839.0,394.2 841.5,391.5 844.0,389.3 846.5,388.4 849.0,388.9 851.5,390.1 854.0,391.7 856.5,393.0 859.0,393.8 861.5,393.5 864.0,391.5 866.5,388.5 869.0,385.2 871.5,382.4 874.0,379.6 876.5,376.8 879.0,373.8 881.5,371.5 884.0,370.0 886.5,369.0 889.0,368.2 891.5,367.5 894.0,367.0 896.5,366.5 899.0,366.1 901.5,365.8 904.0,365.8 906.5,365.2 909.0,365.0 911.5,364.7 914.0,364.4 916.5,364.0 919.0,363.5 921.5,363.6 924.0,363.2 926.5,362.4 929.0,359.6 931.5,355.5 934.0,351.8 936.5,350.1 939.0,350.1 941.5,350.1 944.0,350.1 946.5,350.1 949.0,350.5 951.5,352.8 954.0,355.8 956.5,358.4 959.0,359.2 961.5,358.9 964.0,358.3 966.5,357.7 969.0,357.4 971.5,357.5 974.0,357.6 976.5,357.7 979.0,358.3 981.5,358.7 984.0,359.2 986.5,359.8 989.0,360.7 991.5,361.6 994.0,362.4 996.5,362.8 999.0,362.1 1001.5,360.1 1004.0,358.1 1006.5,357.5 1009.0,359.1 1011.5,362.1 1014.0,364.9 1016.5,366.5 1019.0,366.0 1021.5,364.4 1024.0,361.4 1026.5,359.9 1029.0,358.1 1031.5,357.4 1034.0,358.6 1036.5,361.3 1039.0,364.3 1041.5,366.3 1044.0,366.2 1046.5,364.8 1049.0,363.0 1051.5,361.4 1054.0,361.0 1056.5,361.9 1059.0,363.4 1061.5,365.7 1064.0,368.0 1066.5,370.7 1069.0,374.3 1071.5,377.7 1074.0,379.5 1076.5,380.4 1079.0,380.9 1081.5,381.6 1084.0,382.2 1086.5,383.0 1089.0,383.9 1091.5,385.0 1094.0,386.6 1096.5,387.5 1099.0,388.9 1101.5,390.6 1104.0,392.9 1106.5,395.4 1109.0,398.1 1111.5,402.1 1114.0,405.0 1116.5,407.6 1119.0,410.3 1121.5,413.0 1124.0,415.5 1126.5,417.7 1129.0,419.1 1131.5,419.7 1134.0,420.0 1136.5,420.0 1139.0,420.2 1141.5,420.6 1144.0,421.0 1146.5,422.6 1149.0,425.3 1151.5,426.2 1154.0,426.6 1156.5,426.0 1159.0,426.7 1161.5,427.2 1164.0,427.6 1166.5,428.5 1169.0,430.7 1171.5,433.7 1174.0,437.4 1176.5,444.6 1179.0,453.1 1181.5,457.2 1184.0,458.6 1186.5,459.2 1189.0,459.3 1191.5,460.7 1194.0,461.6 1196.5,463.0 1199.0,465.4 1201.5,468.2 1204.0,470.9 1206.5,472.8 1209.0,474.1 1211.5,475.4 1214.0,477.2 1216.5,479.9 1219.0,485.5 1221.5,492.5 1224.0,501.6 1226.5,509.7 1229.0,514.2 1231.5,517.7 1234.0,520.6 1236.5,523.3 1239.0,526.1 1241.5,528.8 1244.0,531.3 1246.5,533.5 1249.0,535.1 1251.5,536.4 1254.0,537.7 1256.5,538.9 1259.0,540.5 1261.5,542.6 1264.0,545.2 1266.5,547.4 1269.0,551.1 1271.5,555.0 1274.0,558.6 1276.5,562.3 1279.0,566.5 1281.5,570.9 1284.0,575.6 1286.5,580.1 1289.0,583.8 1291.5,586.6 1294.0,588.8 1296.5,590.4 1299.0,592.1 1301.5,594.3 1304.0,596.8 1306.5,600.2 1309.0,604.8 1311.5,610.5 1314.0,616.4 1316.5,623.2 1319.0,629.6 1321.5,637.1 1324.0,644.7 1326.5,645.4 1329.0,641.8 1331.5,636.8 1334.0,631.6 1336.5,625.6 1339.0,624.5 1341.5,627.7 1344.0,632.6 1346.5,637.4 1349.0,642.9 1351.5,647.1 1354.0,650.2 1356.5,652.9 1359.0,655.1 1361.5,657.3 1364.0,659.5 1366.5,661.6 1369.0,663.5 1371.5,665.3 1374.0,667.4 1376.5,669.9 1379.0,673.6 1381.5,678.3 1384.0,683.4 1386.5,690.0 1389.0,695.2 1391.5,697.3 1394.0,698.8 1396.5,699.8 1399.0,701.0 1401.5,702.4 1404.0,704.3 1406.5,706.4 1409.0,708.6 1411.5,711.0 1414.0,713.1 1416.5,714.8 1419.0,716.5 1421.5,718.9 1424.0,719.6 1426.5,721.0 1429.0,722.5 1431.5,724.0 1434.0,725.5 1436.5,726.9 1439.0,728.3 1441.5,729.6 1444.0,730.9 1446.5,732.1 1449.0,733.2 1451.5,734.2 1454.0,735.1 1456.5,735.7 1459.0,736.7 1461.5,737.5 1464.0,738.0 1466.5,738.3 1469.0,738.6 1471.5,739.0 1474.0,739.0 1476.5,739.2 1479.0,739.6 1481.5,740.0 1484.0,740.3 1486.5,740.9 1489.0,741.5 1491.5,742.1 1494.0,742.6 1496.5,743.2 1499.0,743.8 1501.5,744.6 1504.0,745.6 1506.5,747.1 1509.0,748.7 1511.5,749.9 1514.0,750.3 1516.5,750.3 1519.0,750.3 1521.0,750.3"/>
<polyline id="c10" points="229.0,636.0 231.5,635.7 234.0,635.4 236.5,634.7 239.0,634.1 241.5,634.6 244.0,635.8 246.5,635.7 249.0,634.4 251.5,632.8 254.0,632.3 256.5,632.5 259.0,632.0 261.5,630.6 264.0,629.4 266.5,628.9 269.0,628.3 271.5,627.6 274.0,626.8 276.5,626.0 279.0,625.8 281.5,625.3 284.0,624.3 286.5,623.5 289.0,623.0 291.5,622.0 294.0,619.4 296.5,615.6 299.0,613.0 301.5,612.7 304.0,613.3 306.5,613.3 309.0,613.1 311.5,613.0 314.0,613.0 316.5,612.9 319.0,612.5 321.5,613.1 324.0,614.4 326.5,615.1 329.0,614.3 331.5,613.4 334.0,613.7 336.5,615.0 339.0,616.0 341.5,615.3 344.0,612.6 346.5,609.3 349.0,607.3 351.5,607.9 354.0,610.3 356.5,613.0 359.0,614.2 361.5,613.9 364.0,613.5 366.5,613.1 369.0,613.0 371.5,613.0 374.0,612.8 376.5,612.0 379.0,610.1 381.5,607.1 384.0,604.8 386.5,604.0 389.0,602.7 391.5,600.0 394.0,597.4 396.5,595.2 399.0,593.3 401.5,591.6 404.0,590.0 406.5,588.4 409.0,587.0 411.5,585.8 414.0,584.5 416.5,583.4 419.0,582.8 421.5,582.9 424.0,583.2 426.5,583.2 429.0,582.1 431.5,581.6 434.0,583.0 436.5,586.2 439.0,588.0 441.5,588.8 444.0,589.4 446.5,589.7 449.0,590.0 451.5,590.0 454.0,590.0 456.5,590.1 459.0,589.1 461.5,587.7 464.0,587.5 466.5,589.4 469.0,590.4 471.5,590.2 474.0,589.9 476.5,590.0 479.0,590.0 481.5,590.0 484.0,589.8 486.5,589.6 489.0,589.2 491.5,588.4 494.0,588.5 496.5,589.3 499.0,589.0 501.5,587.4 504.0,586.0 506.5,585.8 509.0,585.7 511.5,587.4 514.0,590.6 516.5,592.6 519.0,591.5 521.5,587.9 524.0,582.4 526.5,576.3 529.0,569.0 531.5,560.5 534.0,553.4 536.5,547.3 539.0,541.0 541.5,541.9 544.0,548.3 546.5,551.1 549.0,552.5 551.5,552.0 554.0,549.6 556.5,546.1 559.0,542.6 561.5,539.1 564.0,535.1 566.5,531.1 569.0,527.5 571.5,524.7 574.0,522.1 576.5,519.8 579.0,517.5 581.5,515.0 584.0,512.4 586.5,510.5 589.0,509.8 591.5,511.2 594.0,513.3 596.5,515.1 599.0,516.7 601.5,518.5 604.0,520.5 606.5,522.1 609.0,522.5 611.5,522.2 614.0,521.7 616.5,520.9 619.0,520.1 621.5,518.5 624.0,516.3 626.5,513.8 629.0,511.2 631.5,508.1 634.0,504.4 636.5,499.8 639.0,492.4 641.5,487.2 644.0,483.9 646.5,482.0 649.0,481.7 651.5,482.4 654.0,483.4 656.5,484.1 659.0,483.9 661.5,482.6 664.0,480.8 666.5,479.1 669.0,477.8 671.5,476.5 674.0,475.3 676.5,474.1 679.0,473.1 681.5,472.0 684.0,470.9 686.5,469.6 689.0,468.2 691.5,466.8 694.0,465.2 696.5,463.4 699.0,461.4 701.5,459.5 704.0,457.6 706.5,455.9 709.0,454.2 711.5,452.6 714.0,451.2 716.5,450.1 719.0,449.2 721.5,448.3 724.0,447.4 726.5,446.4 729.0,444.8 731.5,443.2 734.0,441.9 736.5,441.4 739.0,443.5 741.5,447.8 744.0,452.1 746.5,454.7 749.0,454.1 751.5,451.4 754.0,448.1 756.5,445.2 759.0,442.1 761.5,438.6 764.0,434.6 766.5,429.9 769.0,424.0 771.5,414.5 774.0,410.3 776.5,411.4 779.0,413.5 781.5,415.8 784.0,417.4 786.5,418.2 789.0,419.0 791.5,419.8 794.0,419.9 796.5,420.4 799.0,421.0 801.5,421.2 804.0,420.6 806.5,417.0 809.0,411.1 811.5,405.4 814.0,400.7 816.5,398.8 819.0,397.7 821.5,397.4 824.0,397.8 826.5,396.1 829.0,395.1 831.5,394.5 834.0,393.8 836.5,393.1 839.0,392.3 841.5,390.5 844.0,388.7 846.5,388.3 849.0,389.9 851.5,390.0 854.0,388.5 856.5,387.4 859.0,386.8 861.5,386.3 864.0,385.8 866.5,385.4 869.0,385.6 871.5,384.6 874.0,383.9 876.5,383.3 879.0,382.6 881.5,381.5 884.0,380.1 886.5,378.4 889.0,377.1 891.5,376.2 894.0,375.6 896.5,376.5 899.0,380.0 901.5,384.3 904.0,387.7 906.5,388.0 909.0,384.1 911.5,378.1 914.0,372.9 916.5,370.0 919.0,367.4 921.5,365.4 924.0,364.7 926.5,365.8 929.0,367.9 931.5,369.7 934.0,370.0 936.5,368.8 939.0,367.0 941.5,365.4 944.0,364.7 946.5,365.5 949.0,367.1 951.5,368.9 954.0,370.0 956.5,369.9 959.0,369.0 961.5,367.7 964.0,366.8 966.5,366.5 969.0,367.2 971.5,368.3 974.0,369.5 976.5,370.1 979.0,369.5 981.5,367.9 984.0,366.1 986.5,363.9 989.0,362.8 991.5,363.1 994.0,364.2 996.5,365.8 999.0,367.7 1001.5,369.5 1004.0,371.5 1006.5,374.1 1009.0,376.4 1011.5,377.4 1014.0,376.4 1016.5,374.3 1019.0,372.4 1021.5,372.2 1024.0,374.5 1026.5,378.1 1029.0,381.4 1031.5,382.9 1034.0,382.4 1036.5,381.3 1039.0,380.2 1041.5,379.4 1044.0,379.7 1046.5,382.0 1049.0,385.0 1051.5,388.8 1054.0,392.2 1056.5,393.8 1059.0,393.4 1061.5,391.4 1064.0,389.1 1066.5,386.3 1069.0,384.8 1071.5,386.0 1074.0,391.8 1076.5,398.7 1079.0,403.0 1081.5,404.5 1084.0,405.7 1086.5,406.5 1089.0,406.6 1091.5,406.6 1094.0,406.6 1096.5,406.6 1099.0,407.6 1101.5,411.3 1104.0,415.4 1106.5,417.6 1109.0,418.1 1111.5,418.4 1114.0,418.6 1116.5,418.8 1119.0,419.4 1121.5,422.4 1124.0,428.0 1126.5,432.3 1129.0,434.5 1131.5,436.1 1134.0,437.5 1136.5,439.1 1139.0,441.1 1141.5,444.2 1144.0,448.3 1146.5,452.6 1149.0,456.0 1151.5,458.0 1154.0,459.8 1156.5,461.8 1159.0,462.8 1161.5,463.7 1164.0,464.2 1166.5,463.9 1169.0,462.7 1171.5,461.2 1174.0,459.7 1176.5,458.9 1179.0,460.4 1181.5,467.1 1184.0,474.0 1186.5,477.5 1189.0,480.1 1191.5,482.3 1194.0,484.5 1196.5,487.1 1199.0,489.8 1201.5,492.1 1204.0,493.3 1206.5,493.1 1209.0,492.0 1211.5,490.0 1214.0,489.0 1216.5,488.1 1219.0,488.5 1221.5,491.1 1224.0,494.4 1226.5,497.0 1229.0,498.5 1231.5,499.6 1234.0,500.6 1236.5,501.9 1239.0,503.7 1241.5,506.1 1244.0,509.4 1246.5,515.2 1249.0,525.3 1251.5,534.7 1254.0,540.1 1256.5,544.2 1259.0,547.0 1261.5,548.5 1264.0,549.4 1266.5,550.4 1269.0,550.7 1271.5,551.5 1274.0,552.8 1276.5,555.7 1279.0,560.0 1281.5,564.0 1284.0,568.0 1286.5,571.7 1289.0,573.0 1291.5,571.0 1294.0,567.1 1296.5,563.1 1299.0,557.8 1301.5,554.7 1304.0,555.8 1306.5,558.4 1309.0,561.7 1311.5,565.2 1314.0,569.5 1316.5,574.2 1319.0,578.5 1321.5,583.2 1324.0,586.8 1326.5,587.9 1329.0,588.4 1331.5,588.6 1334.0,588.9 1336.5,589.5 1339.0,591.5 1341.5,594.4 1344.0,597.7 1346.5,600.0 1349.0,601.2 1351.5,602.0 1354.0,602.6 1356.5,603.4 1359.0,604.5 1361.5,606.2 1364.0,608.2 1366.5,610.6 1369.0,613.1 1371.5,616.1 1374.0,619.6 1376.5,623.2 1379.0,626.6 1381.5,629.5 1384.0,632.1 1386.5,634.4 1389.0,636.4 1391.5,638.3 1394.0,640.0 1396.5,641.5 1399.0,642.6 1401.5,643.5 1404.0,644.2 1406.5,645.0 1409.0,646.0 1411.5,647.8 1414.0,650.5 1416.5,653.2 1419.0,654.9 1421.5,654.9 1424.0,654.0 1426.5,652.8 1429.0,651.8 1431.5,651.5 1434.0,652.0 1436.5,652.9 1439.0,654.0 1441.5,655.0 1444.0,655.7 1446.5,656.4 1449.0,656.9 1451.5,656.7 1454.0,655.7 1456.5,653.5 1459.0,652.2 1461.5,651.0 1464.0,650.1 1466.5,650.2 1469.0,651.4 1471.5,653.7 1474.0,656.0 1476.5,657.7 1479.0,659.5 1481.5,660.7 1484.0,661.8 1486.5,662.4 1489.0,663.6 1491.5,664.6 1494.0,665.0 1496.5,664.8 1499.0,663.8 1501.5,662.0 1504.0,660.5 1506.5,658.8 1509.0,657.5 1511.5,656.3 1514.0,655.1 1516.5,654.0 1519.0,652.9 1521.0,652.0"/>
<polyline id="c11" points="229.0,642.0 231.5,642.0 234.0,642.1 236.5,642.5 239.0,643.3 241.5,643.3 244.0,641.0 246.5,637.8 249.0,636.3 251.5,637.8 254.0,641.7 256.5,645.4 259.0,646.4 261.5,645.5 264.0,644.6 266.5,644.6 269.0,644.9 271.5,645.2 274.0,645.9 276.5,646.5 279.0,646.2 281.5,646.3 284.0,648.5 286.5,653.2 289.0,657.1 291.5,658.6 294.0,658.1 296.5,657.4 299.0,658.3 301.5,661.1 304.0,663.4 306.5,664.4 309.0,664.8 311.5,665.2 314.0,665.3 316.5,664.7 319.0,663.7 321.5,662.5 324.0,659.3 326.5,653.7 329.0,650.8 331.5,650.2 334.0,649.5 336.5,647.6 339.0,645.6 341.5,644.1 344.0,642.5 346.5,641.2 349.0,640.2 351.5,639.1 354.0,636.9 356.5,632.7 359.0,629.6 361.5,629.0 364.0,629.7 366.5,629.8 369.0,629.2 371.5,629.0 374.0,629.3 376.5,630.4 379.0,631.7 381.5,633.8 384.0,637.0 386.5,640.2 389.0,642.3 391.5,644.2 394.0,645.8 396.5,646.9 399.0,646.0 401.5,630.8 404.0,614.7 406.5,615.4 409.0,623.3 411.5,628.4 414.0,632.9 416.5,636.7 419.0,639.3 421.5,640.8 424.0,641.9 426.5,642.7 429.0,643.0 431.5,642.2 434.0,639.9 436.5,636.5 439.0,632.7 441.5,629.4 444.0,626.1 446.5,623.5 449.0,620.8 451.5,618.3 454.0,615.3 456.5,611.2 459.0,607.2 461.5,605.1 464.0,603.7 466.5,601.8 469.0,599.1 471.5,596.8 474.0,595.3 476.5,593.8 479.0,592.4 481.5,591.8 484.0,591.5 486.5,591.3 489.0,590.4 491.5,588.7 494.0,588.4 496.5,589.8 499.0,591.6 501.5,592.2 504.0,592.3 506.5,592.6 509.0,592.7 511.5,592.0 514.0,590.7 516.5,590.2 519.0,590.1 521.5,589.8 524.0,589.4 526.5,588.7 529.0,588.8 531.5,588.6 534.0,586.7 536.5,584.9 539.0,584.4 541.5,584.2 544.0,583.9 546.5,583.8 549.0,584.3 551.5,585.4 554.0,586.9 556.5,591.8 559.0,597.3 561.5,598.0 564.0,597.9 566.5,597.4 569.0,595.3 571.5,593.0 574.0,594.2 576.5,595.3 579.0,595.1 581.5,594.3 584.0,593.4 586.5,591.2 589.0,587.7 591.5,584.8 594.0,583.8 596.5,584.3 599.0,585.4 601.5,586.7 604.0,588.2 606.5,590.8 609.0,593.2 611.5,593.1 614.0,591.0 616.5,587.7 619.0,583.7 621.5,577.2 624.0,570.8 626.5,564.4 629.0,557.5 631.5,550.1 634.0,539.9 636.5,528.4 639.0,527.2 641.5,526.6 644.0,524.7 646.5,522.6 649.0,521.2 651.5,520.1 654.0,519.3 656.5,519.0 659.0,519.5 661.5,520.3 664.0,521.2 666.5,521.7 669.0,521.5 671.5,521.0 674.0,520.2 676.5,519.4 679.0,518.2 681.5,516.3 684.0,514.2 686.5,512.7 689.0,512.3 691.5,512.6 694.0,513.1 696.5,513.5 699.0,513.7 701.5,513.2 704.0,512.2 706.5,511.1 709.0,510.3 711.5,509.4 714.0,508.6 716.5,507.9 719.0,507.3 721.5,506.7 724.0,506.1 726.5,505.3 729.0,504.3 731.5,503.2 734.0,501.8 736.5,500.1 739.0,496.6 741.5,492.2 744.0,489.7 746.5,489.6 749.0,489.6 751.5,489.6 754.0,489.4 756.5,488.6 759.0,487.5 761.5,486.5 764.0,485.6 766.5,484.3 769.0,482.3 771.5,475.5 774.0,469.2 776.5,465.6 779.0,462.8 781.5,461.5 784.0,462.0 786.5,463.2 789.0,464.1 791.5,464.0 794.0,463.3 796.5,462.2 799.0,460.9 801.5,458.7 804.0,456.1 806.5,454.2 809.0,453.5 811.5,454.5 814.0,456.1 816.5,457.9 819.0,458.8 821.5,457.8 824.0,455.3 826.5,452.7 829.0,451.1 831.5,449.9 834.0,448.8 836.5,447.6 839.0,446.4 841.5,445.1 844.0,443.7 846.5,442.1 849.0,440.4 851.5,438.6 854.0,436.6 856.5,434.6 859.0,433.4 861.5,433.9 864.0,435.5 866.5,437.4 869.0,439.0 871.5,439.5 874.0,438.0 876.5,435.2 879.0,431.8 881.5,428.9 884.0,426.4 886.5,423.8 889.0,421.8 891.5,421.3 894.0,423.2 896.5,426.6 899.0,430.2 901.5,432.1 904.0,431.1 906.5,427.5 909.0,423.1 911.5,420.0 914.0,419.6 916.5,421.3 919.0,423.5 921.5,424.9 924.0,424.9 926.5,424.8 929.0,425.0 931.5,425.4 934.0,425.0 936.5,424.1 939.0,424.1 941.5,424.1 944.0,424.0 946.5,424.0 949.0,424.1 951.5,424.0 954.0,423.3 956.5,424.3 959.0,427.8 961.5,430.6 964.0,429.6 966.5,427.8 969.0,427.1 971.5,427.4 974.0,427.8 976.5,428.2 979.0,428.6 981.5,428.4 984.0,427.6 986.5,428.0 989.0,430.5 991.5,431.9 994.0,431.5 996.5,431.4 999.0,431.8 1001.5,432.3 1004.0,432.7 1006.5,433.2 1009.0,434.3 1011.5,435.3 1014.0,435.1 1016.5,435.1 1019.0,435.5 1021.5,435.7 1024.0,435.8 1026.5,435.6 1029.0,435.2 1031.5,433.4 1034.0,432.1 1036.5,432.9 1039.0,432.5 1041.5,432.2 1044.0,432.3 1046.5,432.9 1049.0,434.2 1051.5,435.4 1054.0,436.5 1056.5,437.9 1059.0,439.0 1061.5,439.7 1064.0,440.4 1066.5,440.8 1069.0,441.6 1071.5,443.0 1074.0,442.7 1076.5,443.0 1079.0,443.1 1081.5,443.1 1084.0,443.1 1086.5,443.1 1089.0,443.1 1091.5,443.7 1094.0,446.8 1096.5,451.3 1099.0,456.2 1101.5,460.1 1104.0,462.4 1106.5,464.2 1109.0,465.3 1111.5,467.0 1114.0,468.1 1116.5,469.1 1119.0,469.9 1121.5,471.0 1124.0,471.2 1126.5,471.8 1129.0,472.5 1131.5,473.2 1134.0,473.9 1136.5,474.5 1139.0,475.3 1141.5,476.2 1144.0,477.3 1146.5,478.3 1149.0,479.9 1151.5,481.2 1154.0,482.5 1156.5,483.9 1159.0,485.2 1161.5,486.5 1164.0,487.7 1166.5,488.8 1169.0,489.8 1171.5,490.8 1174.0,491.7 1176.5,492.9 1179.0,494.5 1181.5,496.8 1184.0,499.9 1186.5,502.5 1189.0,505.1 1191.5,507.4 1194.0,509.4 1196.5,511.2 1199.0,513.3 1201.5,515.7 1204.0,519.0 1206.5,522.9 1209.0,526.6 1211.5,529.7 1214.0,533.0 1216.5,535.8 1219.0,537.2 1221.5,537.2 1224.0,537.2 1226.5,536.1 1229.0,537.2 1231.5,537.2 1234.0,537.2 1236.5,534.7 1239.0,529.3 1241.5,523.5 1244.0,519.5 1246.5,518.7 1249.0,518.4 1251.5,518.2 1254.0,519.8 1256.5,526.1 1259.0,534.7 1261.5,547.4 1264.0,556.5 1266.5,559.9 1269.0,562.3 1271.5,565.3 1274.0,568.5 1276.5,571.6 1279.0,574.6 1281.5,577.8 1284.0,580.7 1286.5,582.1 1289.0,580.9 1291.5,577.5 1294.0,574.1 1296.5,573.2 1299.0,577.1 1301.5,582.1 1304.0,585.7 1306.5,589.0 1309.0,591.3 1311.5,592.9 1314.0,594.2 1316.5,595.2 1319.0,596.3 1321.5,597.7 1324.0,599.3 1326.5,600.8 1329.0,602.3 1331.5,603.9 1334.0,605.5 1336.5,607.1 1339.0,608.5 1341.5,609.5 1344.0,610.1 1346.5,610.7 1349.0,610.9 1351.5,609.9 1354.0,611.3 1356.5,612.3 1359.0,612.9 1361.5,613.6 1364.0,614.7 1366.5,616.4 1369.0,617.6 1371.5,618.9 1374.0,620.2 1376.5,621.4 1379.0,622.9 1381.5,624.1 1384.0,625.3 1386.5,625.9 1389.0,625.6 1391.5,624.5 1394.0,623.1 1396.5,621.4 1399.0,620.5 1401.5,620.8 1404.0,622.8 1406.5,625.8 1409.0,629.1 1411.5,631.9 1414.0,635.0 1416.5,638.2 1419.0,641.0 1421.5,642.3 1424.0,641.2 1426.5,637.9 1429.0,633.9 1431.5,630.9 1434.0,628.2 1436.5,625.8 1439.0,624.3 1441.5,624.4 1444.0,625.9 1446.5,628.2 1449.0,630.6 1451.5,632.6 1454.0,634.9 1456.5,637.5 1459.0,639.1 1461.5,640.0 1464.0,639.8 1466.5,639.0 1469.0,637.6 1471.5,636.7 1474.0,635.4 1476.5,634.3 1479.0,632.9 1481.5,631.1 1484.0,629.8 1486.5,628.7 1489.0,628.1 1491.5,628.4 1494.0,630.3 1496.5,632.8 1499.0,635.7 1501.5,637.6 1504.0,637.8 1506.5,635.7 1509.0,632.7 1511.5,630.3 1514.0,629.1 1516.5,628.0 1519.0,627.3 1521.0,627.0"/>
<polyline id="c12" points="229.0,649.5 231.5,646.7 234.0,643.9 236.5,641.2 239.0,638.6 241.5,635.8 244.0,632.6 246.5,629.4 249.0,626.7 251.5,625.3 254.0,625.2 256.5,625.2 259.0,625.4 261.5,625.2 264.0,625.2 266.5,625.7 269.0,627.4 271.5,629.6 274.0,631.6 276.5,632.5 279.0,632.5 281.5,632.5 284.0,632.5 286.5,632.5 289.0,632.5 291.5,632.6 294.0,632.8 296.5,632.6 299.0,632.9 301.5,633.5 304.0,633.7 306.5,633.6 309.0,632.0 311.5,629.0 314.0,625.7 316.5,622.9 319.0,619.7 321.5,616.6 324.0,614.5 326.5,614.2 329.0,614.5 331.5,614.8 334.0,615.2 336.5,615.4 339.0,613.8 341.5,607.1 344.0,601.3 346.5,600.8 349.0,601.0 351.5,601.3 354.0,601.7 356.5,602.2 359.0,603.4 361.5,604.9 364.0,606.8 366.5,607.9 369.0,608.1 371.5,608.1 374.0,608.2 376.5,608.1 379.0,608.1 381.5,608.0 384.0,607.5 386.5,607.1 389.0,606.1 391.5,605.7 394.0,605.8 396.5,606.0 399.0,606.2 401.5,606.0 404.0,605.1 406.5,603.9 409.0,602.6 411.5,601.6 414.0,600.6 416.5,599.6 419.0,598.6 421.5,597.6 424.0,596.6 426.5,595.6 429.0,594.6 431.5,593.5 434.0,592.4 436.5,591.4 439.0,590.6 441.5,590.1 444.0,589.7 446.5,589.2 449.0,588.6 451.5,587.2 454.0,585.2 456.5,583.1 459.0,581.4 461.5,579.8 464.0,578.3 466.5,577.2 469.0,577.0 471.5,577.5 474.0,578.2 476.5,578.8 479.0,578.8 481.5,578.1 484.0,576.9 486.5,575.6 489.0,574.3 491.5,572.8 494.0,571.2 496.5,569.7 499.0,568.2 501.5,566.5 504.0,565.1 506.5,564.3 509.0,564.3 511.5,564.3 514.0,564.3 516.5,564.3 519.0,564.2 521.5,564.0 524.0,563.7 526.5,563.4 529.0,563.1 531.5,562.7 534.0,562.2 536.5,561.3 539.0,557.7 541.5,555.6 544.0,554.5 546.5,553.7 549.0,552.9 551.5,551.9 554.0,551.0 556.5,550.0 559.0,548.9 561.5,547.7 564.0,546.3 566.5,544.7 569.0,543.0 571.5,541.2 574.0,539.2 576.5,537.1 579.0,535.0 581.5,533.1 584.0,531.2 586.5,529.2 589.0,527.0 591.5,524.6 594.0,522.0 596.5,519.4 599.0,517.0 601.5,514.4 604.0,511.9 606.5,510.2 609.0,509.8 611.5,509.8 614.0,509.8 616.5,509.9 619.0,512.8 621.5,516.6 624.0,518.2 626.5,519.0 629.0,519.5 631.5,519.0 634.0,517.1 636.5,514.0 639.0,504.0 641.5,499.3 644.0,498.2 646.5,497.7 649.0,497.6 651.5,497.6 654.0,497.6 656.5,497.6 659.0,497.5 661.5,493.4 664.0,489.6 666.5,489.9 669.0,490.8 671.5,491.7 674.0,492.3 676.5,490.7 679.0,484.4 681.5,477.3 684.0,473.5 686.5,473.9 689.0,475.0 691.5,477.1 694.0,484.6 696.5,493.2 699.0,502.7 701.5,508.3 704.0,505.5 706.5,498.2 709.0,489.1 711.5,477.4 714.0,463.3 716.5,456.3 719.0,451.7 721.5,448.4 724.0,445.9 726.5,444.2 729.0,442.7 731.5,441.0 734.0,438.4 736.5,435.9 739.0,434.7 741.5,435.3 744.0,437.1 746.5,439.5 749.0,444.1 751.5,452.9 754.0,460.8 756.5,464.4 759.0,466.4 761.5,465.0 764.0,453.7 766.5,445.3 769.0,440.4 771.5,438.8 774.0,441.9 776.5,446.0 779.0,445.4 781.5,437.5 784.0,432.4 786.5,429.7 789.0,428.1 791.5,428.6 794.0,430.8 796.5,433.0 799.0,433.2 801.5,431.5 804.0,429.3 806.5,427.7 809.0,426.8 811.5,426.1 814.0,425.4 816.5,424.9 819.0,424.4 821.5,424.3 824.0,423.6 826.5,423.0 829.0,421.7 831.5,419.0 834.0,416.0 836.5,412.0 839.0,408.8 841.5,406.9 844.0,406.8 846.5,408.3 849.0,411.1 851.5,414.7 854.0,417.1 856.5,419.6 859.0,421.1 861.5,420.5 864.0,416.9 866.5,412.7 869.0,410.3 871.5,409.9 874.0,409.6 876.5,409.6 879.0,410.0 881.5,409.4 884.0,409.0 886.5,408.7 889.0,407.4 891.5,403.6 894.0,399.4 896.5,397.5 899.0,397.9 901.5,398.8 904.0,399.9 906.5,400.7 909.0,401.2 911.5,400.6 914.0,399.0 916.5,397.2 919.0,395.9 921.5,396.0 924.0,398.1 926.5,401.6 929.0,406.0 931.5,415.2 934.0,425.7 936.5,422.1 939.0,407.4 941.5,396.9 944.0,388.9 946.5,386.8 949.0,389.6 951.5,395.0 954.0,403.5 956.5,423.3 959.0,431.8 961.5,421.4 964.0,408.5 966.5,398.7 969.0,392.2 971.5,393.0 974.0,396.7 976.5,402.2 979.0,415.5 981.5,435.1 984.0,447.0 986.5,455.7 989.0,458.8 991.5,460.5 994.0,461.3 996.5,459.4 999.0,450.4 1001.5,441.2 1004.0,437.2 1006.5,434.5 1009.0,432.6 1011.5,431.3 1014.0,430.6 1016.5,429.8 1019.0,428.3 1021.5,419.8 1024.0,412.2 1026.5,413.4 1029.0,416.9 1031.5,421.2 1034.0,427.3 1036.5,434.8 1039.0,439.7 1041.5,442.1 1044.0,443.9 1046.5,445.3 1049.0,446.7 1051.5,448.5 1054.0,450.6 1056.5,452.8 1059.0,455.4 1061.5,459.2 1064.0,466.3 1066.5,473.5 1069.0,476.8 1071.5,478.5 1074.0,479.7 1076.5,480.7 1079.0,481.5 1081.5,482.2 1084.0,482.7 1086.5,483.1 1089.0,483.6 1091.5,484.3 1094.0,485.3 1096.5,488.2 1099.0,492.5 1101.5,496.5 1104.0,499.1 1106.5,501.4 1109.0,503.4 1111.5,504.8 1114.0,505.2 1116.5,504.3 1119.0,502.9 1121.5,501.7 1124.0,501.8 1126.5,504.1 1129.0,507.7 1131.5,511.5 1134.0,514.6 1136.5,516.8 1139.0,518.7 1141.5,520.5 1144.0,522.5 1146.5,524.9 1149.0,528.3 1151.5,535.0 1154.0,543.0 1156.5,548.4 1159.0,549.1 1161.5,549.4 1164.0,550.3 1166.5,551.9 1169.0,554.5 1171.5,556.9 1174.0,560.0 1176.5,563.8 1179.0,570.8 1181.5,577.9 1184.0,581.7 1186.5,584.1 1189.0,586.0 1191.5,587.7 1194.0,589.6 1196.5,591.5 1199.0,593.3 1201.5,595.2 1204.0,597.7 1206.5,601.8 1209.0,608.3 1211.5,612.8 1214.0,613.7 1216.5,614.1 1219.0,614.4 1221.5,614.8 1224.0,615.2 1226.5,615.5 1229.0,616.0 1231.5,616.6 1234.0,618.5 1236.5,622.8 1239.0,627.8 1241.5,631.8 1244.0,634.4 1246.5,636.7 1249.0,638.9 1251.5,641.5 1254.0,644.9 1256.5,649.1 1259.0,652.8 1261.5,654.9 1264.0,656.4 1266.5,657.8 1269.0,659.4 1271.5,661.8 1274.0,665.5 1276.5,669.6 1279.0,673.5 1281.5,677.5 1284.0,681.2 1286.5,684.2 1289.0,686.7 1291.5,688.9 1294.0,691.3 1296.5,694.0 1299.0,697.5 1301.5,701.3 1304.0,705.0 1306.5,707.7 1309.0,709.3 1311.5,710.6 1314.0,711.7 1316.5,712.8 1319.0,714.1 1321.5,715.4 1324.0,716.8 1326.5,718.6 1329.0,721.2 1331.5,725.0 1334.0,729.4 1336.5,734.8 1339.0,741.1 1341.5,745.4 1344.0,747.7 1346.5,749.6 1349.0,751.1 1351.5,752.7 1354.0,754.8 1356.5,757.1 1359.0,759.0 1361.5,759.9 1364.0,759.4 1366.5,758.0 1369.0,756.3 1371.5,754.9 1374.0,754.4 1376.5,755.4 1379.0,757.8 1381.5,760.7 1384.0,763.3 1386.5,765.1 1389.0,766.6 1391.5,768.5 1394.0,769.5 1396.5,770.9 1399.0,772.5 1401.5,774.6 1404.0,776.7 1406.5,778.8 1409.0,780.2 1411.5,781.0 1414.0,781.4 1416.5,781.4 1419.0,782.2 1421.5,782.7 1424.0,783.6 1426.5,785.6 1429.0,788.5 1431.5,791.6 1434.0,794.2 1436.5,795.5 1439.0,794.6 1441.5,791.8 1444.0,788.6 1446.5,786.3 1449.0,785.9 1451.5,785.9 1454.0,785.7 1456.5,785.9 1459.0,785.9 1461.5,785.9 1464.0,785.2 1466.5,783.5 1469.0,781.7 1471.5,780.5 1474.0,780.8 1476.5,782.9 1479.0,785.7 1481.5,788.4 1484.0,789.9 1486.5,789.6 1489.0,788.3 1491.5,786.7 1494.0,785.9 1496.5,786.0 1499.0,786.4 1501.5,786.9 1504.0,787.2 1506.5,787.1 1509.0,785.5 1511.5,783.8 1514.0,783.2 1516.5,783.9 1519.0,785.5 1521.0,787.3"/>
<polyline id="c13" points="229.0,673.8 231.5,679.2 234.0,681.9 236.5,681.8 239.0,678.4 241.5,673.5 244.0,668.1 246.5,661.1 249.0,658.0 251.5,660.9 254.0,666.1 256.5,672.2 259.0,679.9 261.5,682.2 264.0,680.8 266.5,678.5 269.0,676.5 271.5,675.3 274.0,674.3 276.5,673.8 279.0,674.7 281.5,676.8 284.0,679.0 286.5,679.9 289.0,679.7 291.5,679.3 294.0,678.6 296.5,676.1 299.0,672.1 301.5,668.3 304.0,664.3 306.5,660.7 309.0,658.9 311.5,658.0 314.0,657.3 316.5,656.9 319.0,657.0 321.5,659.0 324.0,661.7 326.5,664.0 329.0,666.1 331.5,666.0 334.0,663.1 336.5,660.0 339.0,658.4 341.5,657.4 344.0,656.6 346.5,655.8 349.0,655.1 351.5,654.5 354.0,653.9 356.5,653.2 359.0,652.2 361.5,650.8 364.0,649.6 366.5,648.7 369.0,647.9 371.5,647.3 374.0,647.1 376.5,647.8 379.0,648.9 381.5,649.5 384.0,649.0 386.5,647.9 389.0,646.4 391.5,645.0 394.0,643.5 396.5,641.6 399.0,640.3 401.5,640.2 404.0,640.5 406.5,640.9 409.0,641.1 411.5,641.2 414.0,640.4 416.5,638.5 419.0,636.7 421.5,635.4 424.0,634.0 426.5,633.0 429.0,632.5 431.5,632.9 434.0,634.0 436.5,635.3 439.0,636.4 441.5,637.4 444.0,638.3 446.5,639.1 449.0,639.3 451.5,638.8 454.0,637.6 456.5,635.0 459.0,630.1 461.5,625.2 464.0,619.6 466.5,615.6 469.0,612.9 471.5,610.9 474.0,610.1 476.5,610.1 479.0,610.1 481.5,610.1 484.0,610.4 486.5,612.4 489.0,614.9 491.5,616.7 494.0,616.4 496.5,614.0 499.0,611.3 501.5,608.9 504.0,606.6 506.5,605.2 509.0,605.7 511.5,607.4 514.0,609.1 516.5,610.1 519.0,609.8 521.5,608.9 524.0,607.6 526.5,606.2 529.0,604.8 531.5,603.0 534.0,600.6 536.5,595.8 539.0,590.3 541.5,589.6 544.0,589.6 546.5,589.7 549.0,589.2 551.5,588.5 554.0,589.4 556.5,589.6 559.0,589.6 561.5,589.3 564.0,588.3 566.5,587.0 569.0,585.8 571.5,584.7 574.0,583.7 576.5,582.7 579.0,581.8 581.5,581.0 584.0,580.2 586.5,579.5 589.0,578.8 591.5,578.1 594.0,577.4 596.5,576.7 599.0,575.8 601.5,574.6 604.0,573.3 606.5,571.9 609.0,570.7 611.5,569.4 614.0,568.2 616.5,567.0 619.0,565.7 621.5,564.4 624.0,563.1 626.5,561.9 629.0,560.9 631.5,560.2 634.0,558.9 636.5,554.2 639.0,549.3 641.5,548.0 644.0,547.5 646.5,547.2 649.0,547.3 651.5,548.9 654.0,551.2 656.5,552.6 659.0,553.6 661.5,554.3 664.0,554.9 666.5,555.2 669.0,554.8 671.5,553.6 674.0,551.8 676.5,547.3 679.0,539.3 681.5,537.5 684.0,537.1 686.5,536.9 689.0,536.7 691.5,536.2 694.0,535.5 696.5,535.1 699.0,535.1 701.5,535.1 704.0,534.5 706.5,530.3 709.0,525.3 711.5,521.9 714.0,518.6 716.5,516.6 719.0,516.5 721.5,517.6 724.0,518.7 726.5,518.9 729.0,517.4 731.5,515.2 734.0,513.6 736.5,512.7 739.0,512.0 741.5,511.1 744.0,509.6 746.5,507.6 749.0,505.9 751.5,505.0 754.0,504.5 756.5,504.0 759.0,503.4 761.5,502.6 764.0,501.2 766.5,499.4 769.0,497.1 771.5,493.0 774.0,489.4 776.5,487.4 779.0,485.8 781.5,484.4 784.0,482.9 786.5,481.6 789.0,480.3 791.5,479.3 794.0,478.4 796.5,477.8 799.0,477.2 801.5,476.6 804.0,476.0 806.5,475.2 809.0,474.4 811.5,473.8 814.0,473.5 816.5,474.8 819.0,477.2 821.5,478.8 824.0,478.5 826.5,477.1 829.0,475.5 831.5,474.0 834.0,472.4 836.5,471.1 839.0,470.8 841.5,470.8 844.0,470.8 846.5,470.7 849.0,466.1 851.5,459.9 854.0,454.1 856.5,448.7 859.0,446.3 861.5,445.4 864.0,444.8 866.5,444.2 869.0,443.2 871.5,440.1 874.0,435.1 876.5,430.4 879.0,428.0 881.5,426.6 884.0,425.5 886.5,424.9 889.0,426.4 891.5,432.7 894.0,439.7 896.5,443.1 899.0,439.7 901.5,432.5 904.0,425.5 906.5,422.5 909.0,421.0 911.5,420.0 914.0,419.4 916.5,422.9 919.0,435.1 921.5,448.2 924.0,454.1 926.5,453.4 929.0,451.5 931.5,448.7 934.0,444.7 936.5,434.9 939.0,422.6 941.5,413.3 944.0,409.3 946.5,406.3 949.0,404.8 951.5,406.2 954.0,410.4 956.5,417.3 959.0,429.8 961.5,438.9 964.0,438.8 966.5,436.3 969.0,432.9 971.5,428.2 974.0,421.2 976.5,414.8 979.0,411.9 981.5,411.0 984.0,410.4 986.5,410.6 989.0,417.5 991.5,427.5 994.0,433.6 996.5,437.8 999.0,441.2 1001.5,443.0 1004.0,442.5 1006.5,439.8 1009.0,436.0 1011.5,432.2 1014.0,427.9 1016.5,423.0 1019.0,418.9 1021.5,417.2 1024.0,416.4 1026.5,415.9 1029.0,416.7 1031.5,422.4 1034.0,427.7 1036.5,431.8 1039.0,435.0 1041.5,435.8 1044.0,435.2 1046.5,434.1 1049.0,433.2 1051.5,432.4 1054.0,432.2 1056.5,433.2 1059.0,435.3 1061.5,437.2 1064.0,439.2 1066.5,440.8 1069.0,442.4 1071.5,443.1 1074.0,445.5 1076.5,447.0 1079.0,448.6 1081.5,450.1 1084.0,451.6 1086.5,453.2 1089.0,454.6 1091.5,456.2 1094.0,458.0 1096.5,460.2 1099.0,462.7 1101.5,465.2 1104.0,467.3 1106.5,468.7 1109.0,469.6 1111.5,470.2 1114.0,470.1 1116.5,471.1 1119.0,471.7 1121.5,472.5 1124.0,473.5 1126.5,474.7 1129.0,476.4 1131.5,478.0 1134.0,479.8 1136.5,481.9 1139.0,484.6 1141.5,487.0 1144.0,489.8 1146.5,493.1 1149.0,497.4 1151.5,501.1 1154.0,502.7 1156.5,503.1 1159.0,503.3 1161.5,503.1 1164.0,503.8 1166.5,504.1 1169.0,504.6 1171.5,505.7 1174.0,507.5 1176.5,509.4 1179.0,511.8 1181.5,514.2 1184.0,516.3 1186.5,518.6 1189.0,521.7 1191.5,523.8 1194.0,526.3 1196.5,528.9 1199.0,531.7 1201.5,534.8 1204.0,537.9 1206.5,540.8 1209.0,543.2 1211.5,545.1 1214.0,546.8 1216.5,548.5 1219.0,550.8 1221.5,554.2 1224.0,558.7 1226.5,563.7 1229.0,570.2 1231.5,577.2 1234.0,580.3 1236.5,579.8 1239.0,578.6 1241.5,577.4 1244.0,576.7 1246.5,577.6 1249.0,581.9 1251.5,586.6 1254.0,589.6 1256.5,592.1 1259.0,594.4 1261.5,596.8 1264.0,599.6 1266.5,603.0 1269.0,606.8 1271.5,610.2 1274.0,613.0 1276.5,615.0 1279.0,616.5 1281.5,618.0 1284.0,619.6 1286.5,621.7 1289.0,623.9 1291.5,626.5 1294.0,629.1 1296.5,632.0 1299.0,635.2 1301.5,639.0 1304.0,642.3 1306.5,645.5 1309.0,648.3 1311.5,651.0 1314.0,653.5 1316.5,655.7 1319.0,657.7 1321.5,659.5 1324.0,661.1 1326.5,662.6 1329.0,664.3 1331.5,666.1 1334.0,668.0 1336.5,669.9 1339.0,671.9 1341.5,674.1 1344.0,676.3 1346.5,679.0 1349.0,681.7 1351.5,683.9 1354.0,686.6 1356.5,689.5 1359.0,692.7 1361.5,696.0 1364.0,699.1 1366.5,702.0 1369.0,705.3 1371.5,708.4 1374.0,711.0 1376.5,712.0 1379.0,711.5 1381.5,710.3 1384.0,708.9 1386.5,708.0 1389.0,708.4 1391.5,711.2 1394.0,715.1 1396.5,718.3 1399.0,721.5 1401.5,724.7 1404.0,727.6 1406.5,729.7 1409.0,730.8 1411.5,731.5 1414.0,732.2 1416.5,733.2 1419.0,735.5 1421.5,741.5 1424.0,747.8 1426.5,750.6 1429.0,751.3 1431.5,752.0 1434.0,752.3 1436.5,752.9 1439.0,754.3 1441.5,756.4 1444.0,758.9 1446.5,761.4 1449.0,764.7 1451.5,767.4 1454.0,768.0 1456.5,766.1 1459.0,763.1 1461.5,760.0 1464.0,758.5 1466.5,759.3 1469.0,761.6 1471.5,764.5 1474.0,767.2 1476.5,768.9 1479.0,770.3 1481.5,771.5 1484.0,772.7 1486.5,773.8 1489.0,774.7 1491.5,775.6 1494.0,776.4 1496.5,777.4 1499.0,779.0 1501.5,781.4 1504.0,783.9 1506.5,785.6 1509.0,785.9 1511.5,785.8 1514.0,786.0 1516.5,785.1 1519.0,784.3 1521.0,783.2"/>
<polyline id="c14" points="229.0,654.4 231.5,653.3 234.0,652.2 236.5,651.1 239.0,650.0 241.5,648.9 244.0,647.6 246.5,646.1 249.0,645.2 251.5,644.6 254.0,644.6 256.5,644.6 259.0,644.6 261.5,644.6 264.0,645.1 266.5,646.6 269.0,648.5 271.5,650.0 274.0,651.5 276.5,652.9 279.0,654.0 281.5,654.4 284.0,653.7 286.5,652.5 289.0,651.9 291.5,651.9 294.0,651.9 296.5,651.9 299.0,651.9 301.5,651.9 304.0,652.3 306.5,652.8 309.0,653.7 311.5,654.3 314.0,654.4 316.5,654.1 319.0,653.4 321.5,652.5 324.0,651.0 326.5,647.0 329.0,642.0 331.5,637.3 334.0,631.9 336.5,628.0 339.0,628.0 341.5,630.3 344.0,633.7 346.5,639.4 349.0,646.6 351.5,646.3 354.0,643.5 356.5,640.3 359.0,637.3 361.5,634.9 364.0,635.2 366.5,636.1 369.0,637.3 371.5,639.4 374.0,642.5 376.5,644.7 379.0,645.9 381.5,646.8 384.0,647.1 386.5,644.3 389.0,639.4 391.5,635.4 394.0,634.0 396.5,633.1 399.0,632.6 401.5,633.2 404.0,636.5 406.5,639.6 409.0,639.9 411.5,637.8 414.0,634.6 416.5,631.2 419.0,626.5 421.5,621.5 424.0,618.1 426.5,616.6 429.0,615.5 431.5,614.9 434.0,615.8 436.5,618.8 439.0,621.8 441.5,622.7 444.0,621.9 446.5,620.7 449.0,619.7 451.5,619.1 454.0,618.6 456.5,618.2 459.0,617.8 461.5,617.5 464.0,617.1 466.5,616.9 469.0,616.9 471.5,616.9 474.0,616.9 476.5,616.9 479.0,616.8 481.5,616.4 484.0,615.5 486.5,614.5 489.0,613.1 491.5,610.6 494.0,608.0 496.5,606.3 499.0,606.3 501.5,606.9 504.0,607.7 506.5,609.1 509.0,612.0 511.5,613.9 514.0,612.7 516.5,608.7 519.0,604.0 521.5,600.5 524.0,598.7 526.5,597.3 529.0,596.0 531.5,594.4 534.0,591.6 536.5,588.2 539.0,586.0 541.5,585.8 544.0,586.4 546.5,587.2 549.0,587.7 551.5,587.3 554.0,585.9 556.5,583.9 559.0,582.1 561.5,580.6 564.0,579.0 566.5,578.0 569.0,579.1 571.5,583.2 574.0,585.7 576.5,585.1 579.0,583.4 581.5,581.2 584.0,578.1 586.5,573.8 589.0,569.6 591.5,565.5 594.0,561.9 596.5,559.6 599.0,557.7 601.5,556.6 604.0,556.9 606.5,558.1 609.0,558.5 611.5,558.2 614.0,557.6 616.5,556.9 619.0,556.2 621.5,555.2 624.0,554.0 626.5,552.7 629.0,550.9 631.5,549.7 634.0,547.9 636.5,545.6 639.0,541.7 641.5,539.8 644.0,539.1 646.5,538.6 649.0,538.2 651.5,537.6 654.0,536.9 656.5,536.1 659.0,534.9 661.5,532.3 664.0,529.0 666.5,527.1 669.0,527.6 671.5,528.7 674.0,529.6 676.5,529.0 679.0,526.1 681.5,522.9 684.0,520.9 686.5,519.2 689.0,518.0 691.5,517.8 694.0,520.0 696.5,523.0 699.0,524.4 701.5,522.8 704.0,519.7 706.5,516.6 709.0,514.8 711.5,513.3 714.0,511.7 716.5,509.6 719.0,507.0 721.5,504.3 724.0,502.2 726.5,500.4 729.0,498.8 731.5,497.3 734.0,496.0 736.5,494.7 739.0,493.7 741.5,492.4 744.0,491.0 746.5,489.4 749.0,487.5 751.5,484.3 754.0,479.7 756.5,477.5 759.0,479.8 761.5,484.2 764.0,488.2 766.5,491.9 769.0,495.7 771.5,500.6 774.0,502.7 776.5,476.2 779.0,447.4 781.5,444.0 784.0,442.7 786.5,444.3 789.0,448.7 791.5,452.4 794.0,455.1 796.5,457.1 799.0,457.0 801.5,453.3 804.0,448.8 806.5,446.6 809.0,445.7 811.5,445.4 814.0,449.5 816.5,457.2 819.0,469.9 821.5,480.4 824.0,486.5 826.5,485.4 829.0,480.8 831.5,476.2 834.0,471.2 836.5,465.5 839.0,458.8 841.5,453.2 844.0,448.9 846.5,445.0 849.0,441.1 851.5,435.9 854.0,430.7 856.5,428.0 859.0,428.3 861.5,433.2 864.0,452.1 866.5,468.7 869.0,471.4 871.5,472.2 874.0,468.4 876.5,448.0 879.0,438.8 881.5,436.9 884.0,436.0 886.5,436.9 889.0,446.5 891.5,459.5 894.0,468.2 896.5,467.7 899.0,463.9 901.5,458.7 904.0,451.5 906.5,441.4 909.0,434.3 911.5,432.3 914.0,430.8 916.5,429.8 919.0,428.9 921.5,428.1 924.0,427.3 926.5,426.5 929.0,426.1 931.5,425.4 934.0,424.5 936.5,423.0 939.0,421.3 941.5,419.9 944.0,419.4 946.5,421.5 949.0,426.6 951.5,433.1 954.0,448.2 956.5,466.0 959.0,472.1 961.5,465.8 964.0,454.8 966.5,443.5 969.0,428.6 971.5,421.2 974.0,422.3 976.5,425.1 979.0,429.5 981.5,444.2 984.0,460.9 986.5,473.0 989.0,481.1 991.5,478.9 994.0,470.1 996.5,459.3 999.0,447.0 1001.5,432.3 1004.0,423.3 1006.5,421.2 1009.0,419.9 1011.5,419.4 1014.0,423.2 1016.5,431.6 1019.0,440.1 1021.5,449.7 1024.0,455.9 1026.5,453.8 1029.0,448.1 1031.5,441.3 1034.0,435.6 1036.5,432.8 1039.0,430.7 1041.5,429.2 1044.0,428.5 1046.5,429.3 1049.0,431.8 1051.5,435.1 1054.0,438.5 1056.5,441.8 1059.0,445.7 1061.5,451.1 1064.0,462.2 1066.5,474.3 1069.0,475.2 1071.5,475.7 1074.0,476.0 1076.5,475.2 1079.0,471.1 1081.5,468.2 1084.0,466.8 1086.5,465.6 1089.0,465.0 1091.5,465.1 1094.0,465.8 1096.5,467.6 1099.0,468.3 1101.5,469.8 1104.0,471.3 1106.5,473.1 1109.0,475.2 1111.5,477.5 1114.0,480.1 1116.5,483.1 1119.0,486.7 1121.5,492.8 1124.0,500.8 1126.5,507.2 1129.0,508.8 1131.5,508.8 1134.0,508.9 1136.5,508.8 1139.0,508.8 1141.5,509.7 1144.0,512.3 1146.5,515.4 1149.0,518.3 1151.5,519.8 1154.0,519.3 1156.5,518.3 1159.0,518.6 1161.5,520.5 1164.0,523.1 1166.5,525.8 1169.0,528.0 1171.5,529.9 1174.0,531.8 1176.5,534.0 1179.0,535.1 1181.5,537.1 1184.0,539.5 1186.5,542.2 1189.0,545.2 1191.5,548.3 1194.0,551.3 1196.5,555.2 1199.0,558.9 1201.5,560.2 1204.0,560.0 1206.5,559.7 1209.0,559.0 1211.5,558.6 1214.0,558.4 1216.5,560.3 1219.0,564.2 1221.5,567.9 1224.0,569.8 1226.5,570.7 1229.0,571.3 1231.5,572.0 1234.0,573.1 1236.5,574.8 1239.0,577.4 1241.5,580.2 1244.0,583.0 1246.5,585.5 1249.0,588.1 1251.5,590.7 1254.0,593.2 1256.5,595.6 1259.0,598.2 1261.5,601.0 1264.0,603.0 1266.5,604.0 1269.0,603.6 1271.5,602.6 1274.0,601.4 1276.5,600.5 1279.0,600.7 1281.5,602.4 1284.0,605.4 1286.5,608.9 1289.0,614.2 1291.5,621.8 1294.0,627.5 1296.5,629.8 1299.0,631.5 1301.5,632.8 1304.0,634.3 1306.5,636.0 1309.0,637.9 1311.5,639.9 1314.0,642.1 1316.5,645.1 1319.0,648.6 1321.5,651.8 1324.0,653.6 1326.5,654.4 1329.0,654.7 1331.5,655.4 1334.0,656.1 1336.5,657.1 1339.0,659.4 1341.5,662.7 1344.0,666.2 1346.5,669.4 1349.0,672.7 1351.5,675.8 1354.0,678.5 1356.5,680.4 1359.0,682.0 1361.5,682.0 1364.0,684.8 1366.5,686.2 1369.0,687.8 1371.5,689.7 1374.0,691.9 1376.5,693.8 1379.0,695.4 1381.5,696.7 1384.0,697.4 1386.5,697.9 1389.0,697.8 1391.5,698.7 1394.0,699.2 1396.5,699.9 1399.0,701.2 1401.5,702.9 1404.0,704.6 1406.5,706.3 1409.0,707.7 1411.5,708.6 1414.0,709.4 1416.5,710.6 1419.0,710.7 1421.5,711.5 1424.0,712.3 1426.5,713.1 1429.0,714.3 1431.5,715.1 1434.0,716.0 1436.5,717.3 1439.0,719.1 1441.5,721.8 1444.0,724.5 1446.5,726.6 1449.0,727.3 1451.5,727.7 1454.0,728.0 1456.5,728.3 1459.0,728.7 1461.5,729.3 1464.0,730.4 1466.5,730.6 1469.0,731.1 1471.5,731.2 1474.0,730.4 1476.5,728.9 1479.0,727.2 1481.5,725.9 1484.0,725.1 1486.5,724.3 1489.0,723.5 1491.5,723.2 1494.0,723.0 1496.5,723.5 1499.0,725.0 1501.5,727.0 1504.0,729.0 1506.5,730.4 1509.0,731.6 1511.5,732.8 1514.0,734.2 1516.5,735.9 1519.0,737.8 1521.0,739.4"/>
<polyline id="c15" points="229.0,637.3 231.5,630.7 234.0,625.1 236.5,620.7 239.0,616.7 241.5,613.8 244.0,612.3 246.5,611.2 249.0,610.6 251.5,610.9 254.0,612.3 256.5,614.7 259.0,619.4 261.5,626.5 264.0,629.8 266.5,631.9 269.0,633.6 271.5,635.7 274.0,638.5 276.5,641.3 279.0,643.1 281.5,643.2 284.0,641.9 286.5,639.6 289.0,637.1 291.5,633.3 294.0,628.5 296.5,624.7 299.0,621.3 301.5,618.7 304.0,618.0 306.5,619.3 309.0,621.4 311.5,623.3 314.0,625.5 316.5,627.2 319.0,627.6 321.5,627.2 324.0,626.6 326.5,625.7 329.0,624.3 331.5,620.9 334.0,616.8 336.5,613.6 339.0,610.4 341.5,608.3 344.0,608.7 346.5,611.3 349.0,614.6 351.5,617.7 354.0,621.2 356.5,624.6 359.0,627.5 361.5,630.3 364.0,632.3 366.5,633.7 369.0,634.9 371.5,635.8 374.0,636.1 376.5,635.0 379.0,632.5 381.5,629.8 384.0,626.0 386.5,621.9 389.0,620.3 391.5,620.1 394.0,620.1 396.5,619.8 399.0,619.8 401.5,620.5 404.0,623.6 406.5,626.2 409.0,628.6 411.5,630.3 414.0,629.8 416.5,625.6 419.0,620.6 421.5,616.8 424.0,613.1 426.5,609.6 429.0,606.4 431.5,603.3 434.0,599.9 436.5,597.0 439.0,595.0 441.5,594.5 444.0,594.5 446.5,594.5 449.0,594.5 451.5,594.4 454.0,593.2 456.5,591.3 459.0,589.4 461.5,588.1 464.0,586.8 466.5,585.9 469.0,585.8 471.5,587.2 474.0,589.5 476.5,591.7 479.0,593.2 481.5,594.5 484.0,595.6 486.5,596.3 489.0,595.7 491.5,592.2 494.0,587.3 496.5,582.8 499.0,577.5 501.5,572.9 504.0,570.7 506.5,569.6 509.0,569.2 511.5,570.9 514.0,574.7 516.5,578.5 519.0,581.9 521.5,585.5 524.0,587.6 526.5,586.6 529.0,583.0 531.5,578.7 534.0,573.6 536.5,567.5 539.0,563.2 541.5,561.9 544.0,561.1 546.5,560.6 549.0,560.4 551.5,560.7 554.0,562.1 556.5,564.0 559.0,565.9 561.5,568.0 564.0,570.6 566.5,572.9 569.0,574.0 571.5,573.5 574.0,571.9 576.5,568.3 579.0,560.6 581.5,555.9 584.0,553.7 586.5,552.2 589.0,551.7 591.5,552.6 594.0,554.2 596.5,557.0 599.0,561.1 601.5,564.1 604.0,562.8 606.5,557.6 609.0,553.2 611.5,548.9 614.0,546.8 616.5,549.3 619.0,554.5 621.5,558.7 624.0,559.4 626.5,559.1 629.0,558.8 631.5,558.5 634.0,558.6 636.5,558.9 639.0,559.2 641.5,555.9 644.0,542.4 646.5,530.1 649.0,518.5 651.5,512.5 654.0,509.9 656.5,510.3 659.0,512.8 661.5,516.5 664.0,525.1 666.5,534.5 669.0,538.7 671.5,541.8 674.0,543.9 676.5,545.1 679.0,545.8 681.5,546.5 684.0,548.2 686.5,552.4 689.0,556.6 691.5,557.7 694.0,556.4 696.5,553.8 699.0,549.3 701.5,539.9 704.0,527.5 706.5,509.6 709.0,497.4 711.5,490.2 714.0,490.3 716.5,493.2 719.0,499.2 721.5,510.6 724.0,513.1 726.5,507.6 729.0,499.9 731.5,494.0 734.0,489.1 736.5,486.9 739.0,490.5 741.5,494.8 744.0,496.1 746.5,497.1 749.0,497.6 751.5,497.1 754.0,495.7 756.5,494.9 759.0,496.1 761.5,498.1 764.0,499.3 766.5,500.1 769.0,500.1 771.5,496.3 774.0,492.1 776.5,489.5 779.0,487.4 781.5,485.7 784.0,484.7 786.5,484.0 789.0,483.2 791.5,482.2 794.0,480.7 796.5,479.3 799.0,478.0 801.5,477.3 804.0,477.0 806.5,476.6 809.0,476.1 811.5,473.8 814.0,470.6 816.5,468.3 819.0,467.0 821.5,466.0 824.0,465.5 826.5,465.8 829.0,467.0 831.5,468.0 834.0,468.2 836.5,468.2 839.0,468.2 841.5,468.1 844.0,466.3 846.5,463.2 849.0,459.8 851.5,455.6 854.0,450.7 856.5,447.1 859.0,445.2 861.5,445.4 864.0,447.3 866.5,449.8 869.0,453.5 871.5,456.2 874.0,457.6 876.5,457.4 879.0,456.4 881.5,455.1 884.0,453.6 886.5,452.5 889.0,452.0 891.5,451.7 894.0,450.5 896.5,450.8 899.0,450.9 901.5,450.5 904.0,449.8 906.5,448.6 909.0,448.0 911.5,446.0 914.0,444.2 916.5,443.3 919.0,443.2 921.5,445.3 924.0,448.7 926.5,452.3 929.0,454.1 931.5,453.0 934.0,450.2 936.5,446.9 939.0,443.1 941.5,438.5 944.0,435.0 946.5,434.0 949.0,434.3 951.5,434.8 954.0,435.5 956.5,437.1 959.0,440.9 961.5,444.9 964.0,446.8 966.5,446.8 969.0,446.8 971.5,446.8 974.0,446.8 976.5,446.7 979.0,445.9 981.5,444.7 984.0,443.9 986.5,443.2 989.0,443.3 991.5,444.6 994.0,446.4 996.5,448.0 999.0,448.6 1001.5,447.0 1004.0,443.8 1006.5,440.5 1009.0,438.0 1011.5,437.0 1014.0,436.2 1016.5,435.8 1019.0,437.9 1021.5,444.1 1024.0,451.4 1026.5,456.7 1029.0,457.3 1031.5,453.9 1034.0,449.6 1036.5,446.9 1039.0,446.8 1041.5,446.8 1044.0,447.5 1046.5,451.0 1049.0,456.0 1051.5,460.8 1054.0,463.7 1056.5,465.4 1059.0,466.3 1061.5,467.9 1064.0,469.2 1066.5,470.7 1069.0,472.8 1071.5,475.3 1074.0,477.7 1076.5,479.9 1079.0,481.5 1081.5,482.7 1084.0,483.8 1086.5,484.6 1089.0,485.1 1091.5,485.1 1094.0,485.1 1096.5,485.7 1099.0,485.3 1101.5,485.1 1104.0,485.1 1106.5,484.9 1109.0,484.4 1111.5,483.8 1114.0,483.4 1116.5,483.3 1119.0,483.9 1121.5,484.9 1124.0,486.5 1126.5,492.6 1129.0,503.4 1131.5,503.2 1134.0,493.6 1136.5,484.5 1139.0,482.6 1141.5,481.9 1144.0,481.5 1146.5,486.7 1149.0,503.0 1151.5,518.5 1154.0,530.2 1156.5,535.7 1159.0,539.9 1161.5,542.7 1164.0,545.1 1166.5,547.1 1169.0,548.9 1171.5,550.1 1174.0,551.6 1176.5,552.6 1179.0,553.4 1181.5,554.1 1184.0,554.5 1186.5,554.4 1189.0,555.8 1191.5,556.3 1194.0,556.6 1196.5,556.6 1199.0,556.6 1201.5,556.6 1204.0,556.6 1206.5,556.6 1209.0,553.0 1211.5,544.5 1214.0,536.2 1216.5,527.7 1219.0,522.0 1221.5,522.5 1224.0,524.4 1226.5,527.3 1229.0,536.6 1231.5,551.6 1234.0,560.3 1236.5,562.3 1239.0,563.5 1241.5,563.9 1244.0,562.7 1246.5,560.5 1249.0,558.7 1251.5,558.7 1254.0,561.3 1256.5,565.2 1259.0,568.8 1261.5,571.2 1264.0,573.4 1266.5,575.3 1269.0,576.8 1271.5,577.8 1274.0,578.7 1276.5,579.7 1279.0,581.3 1281.5,583.9 1284.0,587.2 1286.5,590.7 1289.0,594.8 1291.5,599.6 1294.0,602.2 1296.5,602.2 1299.0,602.2 1301.5,602.2 1304.0,602.4 1306.5,605.5 1309.0,610.3 1311.5,614.6 1314.0,619.5 1316.5,623.4 1319.0,624.0 1321.5,623.1 1324.0,621.8 1326.5,620.6 1329.0,619.6 1331.5,618.5 1334.0,617.5 1336.5,616.9 1339.0,617.0 1341.5,619.1 1344.0,622.7 1346.5,626.8 1349.0,631.1 1351.5,636.5 1354.0,641.6 1356.5,646.3 1359.0,651.0 1361.5,653.3 1364.0,652.5 1366.5,650.3 1369.0,647.9 1371.5,646.2 1374.0,646.1 1376.5,646.4 1379.0,646.4 1381.5,648.0 1384.0,649.0 1386.5,650.2 1389.0,652.1 1391.5,654.4 1394.0,656.8 1396.5,658.9 1399.0,660.6 1401.5,662.4 1404.0,664.0 1406.5,665.3 1409.0,666.1 1411.5,666.5 1414.0,666.8 1416.5,667.5 1419.0,667.2 1421.5,667.5 1424.0,668.0 1426.5,668.9 1429.0,670.4 1431.5,672.3 1434.0,674.5 1436.5,677.9 1439.0,683.3 1441.5,687.1 1444.0,687.4 1446.5,687.4 1449.0,687.4 1451.5,687.4 1454.0,687.1 1456.5,686.6 1459.0,686.2 1461.5,686.0 1464.0,686.3 1466.5,686.9 1469.0,687.7 1471.5,688.5 1474.0,689.2 1476.5,690.0 1479.0,690.8 1481.5,691.3 1484.0,691.4 1486.5,689.7 1489.0,687.3 1491.5,686.0 1494.0,686.8 1496.5,688.7 1499.0,690.9 1501.5,693.0 1504.0,695.8 1506.5,697.9 1509.0,698.2 1511.5,697.4 1514.0,696.1 1516.5,694.7 1519.0,693.0 1521.0,691.5"/></defs>
<g stroke="#000000"><use href="#c0" stroke-width="6"/><use href="#c0" x="1.9" y="1.9" stroke-width="2.2"/><use href="#c0" x="1.9" y="-1.9" stroke-width="2.2"/><use href="#c0" x="-1.9" y="1.9" stroke-width="2.2"/><use href="#c0" x="-1.9" y="-1.9" stroke-width="2.2"/></g>
<g stroke="#ff0000"><use href="#c1" stroke-width="6"/><use href="#c1" x="1.9" y="1.9" stroke-width="2.2"/><use href="#c1" x="1.9" y="-1.9" stroke-width="2.2"/><use href="#c1" x="-1.9" y="1.9" stroke-width="2.2"/><use href="#c1" x="-1.9" y="-1.9" stroke-width="2.2"/></g>
<g stroke="#0000ff"><use href="#c2" stroke-width="6"/><use href="#c2" x="1.9" y="1.9" stroke-width="2.2"/><use href="#c2" x="1.9" y="-1.9" stroke-width="2.2"/><use href="#c2" x="-1.9" y="1.9" stroke-width="2.2"/><use href="#c2" x="-1.9" y="-1.9" stroke-width="2.2"/></g>
<g stroke="#ff00ff"><use href="#c3" stroke-width="6"/><use href="#c3" x="1.9" y="1.9" stroke-width="2.2"/><use href="#c3" x="1.9" y="-1.9" stroke-width="2.2"/><use href="#c3" x="-1.9" y="1.9" stroke-width="2.2"/><use href="#c3" x="-1.9" y="-1.9" stroke-width="2.2"/></g>
<g stroke="#008000"><use href="#c4" stroke-width="6"/><use href="#c4" x="1.9" y="1.9" stroke-width="2.2"/><use href="#c4" x="1.9" y="-1.9" stroke-width="2.2"/><use href="#c4" x="-1.9" y="1.9" stroke-width="2.2"/><use href="#c4" x="-1.9" y="-1.9" stroke-width="2.2"/></g>
<g stroke="#000080"><use href="#c5" stroke-width="6"/><use href="#c5" x="1.9" y="1.9" stroke-width="2.2"/><use href="#c5" x="1.9" y="-1.9" stroke-width="2.2"/><use href="#c5" x="-1.9" y="1.9" stroke-width="2.2"/><use href="#c5" x="-1.9" y="-1.9" stroke-width="2.2"/></g>
<g stroke="#8000ff"><use href="#c6" stroke-width="6"/><use href="#c6" x="1.9" y="1.9" stroke-width="2.2"/><use href="#c6" x="1.9" y="-1.9" stroke-width="2.2"/><use href="#c6" x="-1.9" y="1.9" stroke-width="2.2"/><use href="#c6" x="-1.9" y="-1.9" stroke-width="2.2"/></g>
<g stroke="#800080"><use href="#c7" stroke-width="6"/><use href="#c7" x="1.9" y="1.9" stroke-width="2.2"/><use href="#c7" x="1.9" y="-1.9" stroke-width="2.2"/><use href="#c7" x="-1.9" y="1.9" stroke-width="2.2"/><use href="#c7" x="-1.9" y="-1.9" stroke-width="2.2"/></g>
<g stroke="#800000"><use href="#c8" stroke-width="6"/><use href="#c8" x="1.9" y="1.9" stroke-width="2.2"/><use href="#c8" x="1.9" y="-1.9" stroke-width="2.2"/><use href="#c8" x="-1.9" y="1.9" stroke-width="2.2"/><use href="#c8" x="-1.9" y="-1.9" stroke-width="2.2"/></g>
<g stroke="#808000"><use href="#c9" stroke-width="6"/><use href="#c9" x="1.9" y="1.9" stroke-width="2.2"/><use href="#c9" x="1.9" y="-1.9" stroke-width="2.2"/><use href="#c9" x="-1.9" y="1.9" stroke-width="2.2"/><use href="#c9" x="-1.9" y="-1.9" stroke-width="2.2"/></g>
<g stroke="#2862a4"><use href="#c10" stroke-width="6"/><use href="#c10" x="1.9" y="1.9" stroke-width="2.2"/><use href="#c10" x="1.9" y="-1.9" stroke-width="2.2"/><use href="#c10" x="-1.9" y="1.9" stroke-width="2.2"/><use href="#c10" x="-1.9" y="-1.9" stroke-width="2.2"/></g>
<g stroke="#18908f"><use href="#c11" stroke-width="6"/><use href="#c11" x="1.9" y="1.9" stroke-width="2.2"/><use href="#c11" x="1.9" y="-1.9" stroke-width="2.2"/><use href="#c11" x="-1.9" y="1.9" stroke-width="2.2"/><use href="#c11" x="-1.9" y="-1.9" stroke-width="2.2"/></g>
<g stroke="#995d15"><use href="#c12" stroke-width="6"/><use href="#c12" x="1.9" y="1.9" stroke-width="2.2"/><use href="#c12" x="1.9" y="-1.9" stroke-width="2.2"/><use href="#c12" x="-1.9" y="1.9" stroke-width="2.2"/><use href="#c12" x="-1.9" y="-1.9" stroke-width="2.2"/></g>
<g stroke="#10c438"><use href="#c13" stroke-width="6"/><use href="#c13" x="1.9" y="1.9" stroke-width="2.2"/><use href="#c13" x="1.9" y="-1.9" stroke-width="2.2"/><use href="#c13" x="-1.9" y="1.9" stroke-width="2.2"/><use href="#c13" x="-1.9" y="-1.9" stroke-width="2.2"/></g>
<g stroke="#bc1e7a"><use href="#c14" stroke-width="6"/><use href="#c14" x="1.9" y="1.9" stroke-width="2.2"/><use href="#c14" x="1.9" y="-1.9" stroke-width="2.2"/><use href="#c14" x="-1.9" y="1.9" stroke-width="2.2"/><use href="#c14" x="-1.9" y="-1.9" stroke-width="2.2"/></g>
<g stroke="#26c6cc"><use href="#c15" stroke-width="6"/><use href="#c15" x="1.9" y="1.9" stroke-width="2.2"/><use href="#c15" x="1.9" y="-1.9" stroke-width="2.2"/><use href="#c15" x="-1.9" y="1.9" stroke-width="2.2"/><use href="#c15" x="-1.9" y="-1.9" stroke-width="2.2"/></g>
</g>
<text x="203.5" y="84.9" text-anchor="end">0.04</text>
<text x="203.5" y="235.8" text-anchor="end">0.03</text>
<text x="203.5" y="386.6" text-anchor="end">0.02</text>
<text x="203.5" y="537.4" text-anchor="end">0.01</text>
<text x="203.5" y="688.3" text-anchor="end">0.00</text>
<text x="203.5" y="839.1" text-anchor="end">-0.01</text>
<text x="203.5" y="990.0" text-anchor="end">-0.02</text>
<text x="371.8" y="1042" text-anchor="middle">96</text>
<text x="658.9" y="1042" text-anchor="middle">98</text>
<text x="946.0" y="1042" text-anchor="middle">100</text>
<text x="1233.1" y="1042" text-anchor="middle">102</text>
<text x="1520.2" y="1042" text-anchor="middle">104</text>
<text transform="translate(74,624) rotate(-90)"><tspan font-style="italic">F</tspan>/(<tspan font-style="italic">γh</tspan><tspan font-size="39" dy="16">0</tspan><tspan font-size="39" dy="-39">2</tspan><tspan dy="23">)</tspan></text>
<text x="806" y="1142"><tspan font-style="italic">t</tspan>(<tspan font-style="italic">g</tspan>/<tspan font-style="italic">h</tspan><tspan font-size="39" dy="16">0</tspan><tspan dy="-16">)</tspan><tspan font-size="39" font-style="italic" dy="-23">0.5</tspan></text>
<rect x="105.3" y="1213.3" width="1454.4" height="526.5" fill="none" stroke="#000" stroke-width="4.6"/>
<line x1="113" y1="1256.0" x2="251" y2="1256.0" stroke="#000000" stroke-width="6.5"/>
<text x="262" y="1274.3"><tspan font-style="italic">A</tspan><tspan font-size="39" dy="14" dx="1">m</tspan><tspan dy="-14" dx="2">/</tspan><tspan font-style="italic">h</tspan><tspan font-size="36" dy="14" dx="2">0</tspan><tspan dy="-14">=0.0433</tspan></text>
<line x1="592" y1="1256.0" x2="730" y2="1256.0" stroke="#ff0000" stroke-width="6.5"/>
<text x="742" y="1274.3"><tspan font-style="italic">A</tspan><tspan font-size="39" dy="14" dx="1">m</tspan><tspan dy="-14" dx="2">/</tspan><tspan font-style="italic">h</tspan><tspan font-size="36" dy="14" dx="2">0</tspan><tspan dy="-14">=0.0400</tspan></text>
<line x1="1072" y1="1256.0" x2="1210" y2="1256.0" stroke="#0000ff" stroke-width="6.5"/>
<text x="1222" y="1274.3"><tspan font-style="italic">A</tspan><tspan font-size="39" dy="14" dx="1">m</tspan><tspan dy="-14" dx="2">/</tspan><tspan font-style="italic">h</tspan><tspan font-size="36" dy="14" dx="2">0</tspan><tspan dy="-14">=0.0369</tspan></text>
<line x1="113" y1="1341.2" x2="251" y2="1341.2" stroke="#ff00ff" stroke-width="6.5"/>
<text x="262" y="1359.5"><tspan font-style="italic">A</tspan><tspan font-size="39" dy="14" dx="1">m</tspan><tspan dy="-14" dx="2">/</tspan><tspan font-style="italic">h</tspan><tspan font-size="36" dy="14" dx="2">0</tspan><tspan dy="-14">=0.0327</tspan></text>
<line x1="592" y1="1341.2" x2="730" y2="1341.2" stroke="#008000" stroke-width="6.5"/>
<text x="742" y="1359.5"><tspan font-style="italic">A</tspan><tspan font-size="39" dy="14" dx="1">m</tspan><tspan dy="-14" dx="2">/</tspan><tspan font-style="italic">h</tspan><tspan font-size="36" dy="14" dx="2">0</tspan><tspan dy="-14">=0.0317</tspan></text>
<line x1="1072" y1="1341.2" x2="1210" y2="1341.2" stroke="#000080" stroke-width="6.5"/>
<text x="1222" y="1359.5"><tspan font-style="italic">A</tspan><tspan font-size="39" dy="14" dx="1">m</tspan><tspan dy="-14" dx="2">/</tspan><tspan font-style="italic">h</tspan><tspan font-size="36" dy="14" dx="2">0</tspan><tspan dy="-14">=0.0286</tspan></text>
<line x1="113" y1="1428.6" x2="251" y2="1428.6" stroke="#8000ff" stroke-width="6.5"/>
<text x="262" y="1446.9"><tspan font-style="italic">A</tspan><tspan font-size="39" dy="14" dx="1">m</tspan><tspan dy="-14" dx="2">/</tspan><tspan font-style="italic">h</tspan><tspan font-size="36" dy="14" dx="2">0</tspan><tspan dy="-14">=0.0269</tspan></text>
<line x1="592" y1="1428.6" x2="730" y2="1428.6" stroke="#800080" stroke-width="6.5"/>
<text x="742" y="1446.9"><tspan font-style="italic">A</tspan><tspan font-size="39" dy="14" dx="1">m</tspan><tspan dy="-14" dx="2">/</tspan><tspan font-style="italic">h</tspan><tspan font-size="36" dy="14" dx="2">0</tspan><tspan dy="-14">=0.0232</tspan></text>
<line x1="1072" y1="1428.6" x2="1210" y2="1428.6" stroke="#800000" stroke-width="6.5"/>
<text x="1222" y="1446.9"><tspan font-style="italic">A</tspan><tspan font-size="39" dy="14" dx="1">m</tspan><tspan dy="-14" dx="2">/</tspan><tspan font-style="italic">h</tspan><tspan font-size="36" dy="14" dx="2">0</tspan><tspan dy="-14">=0.0322</tspan></text>
<line x1="113" y1="1514.0" x2="251" y2="1514.0" stroke="#808000" stroke-width="6.5"/>
<text x="262" y="1532.3"><tspan font-style="italic">A</tspan><tspan font-size="39" dy="14" dx="1">m</tspan><tspan dy="-14" dx="2">/</tspan><tspan font-style="italic">h</tspan><tspan font-size="36" dy="14" dx="2">0</tspan><tspan dy="-14">=0.0260</tspan></text>
<line x1="592" y1="1514.0" x2="730" y2="1514.0" stroke="#2862a4" stroke-width="6.5"/>
<text x="742" y="1532.3"><tspan font-style="italic">A</tspan><tspan font-size="39" dy="14" dx="1">m</tspan><tspan dy="-14" dx="2">/</tspan><tspan font-style="italic">h</tspan><tspan font-size="36" dy="14" dx="2">0</tspan><tspan dy="-14">=0.0233</tspan></text>
<line x1="1072" y1="1514.0" x2="1210" y2="1514.0" stroke="#18908f" stroke-width="6.5"/>
<text x="1222" y="1532.3"><tspan font-style="italic">A</tspan><tspan font-size="39" dy="14" dx="1">m</tspan><tspan dy="-14" dx="2">/</tspan><tspan font-style="italic">h</tspan><tspan font-size="36" dy="14" dx="2">0</tspan><tspan dy="-14">=0.0194</tspan></text>
<line x1="113" y1="1601.3" x2="251" y2="1601.3" stroke="#995d15" stroke-width="6.5"/>
<text x="262" y="1619.6"><tspan font-style="italic">A</tspan><tspan font-size="39" dy="14" dx="1">m</tspan><tspan dy="-14" dx="2">/</tspan><tspan font-style="italic">h</tspan><tspan font-size="36" dy="14" dx="2">0</tspan><tspan dy="-14">=0.0274</tspan></text>
<line x1="592" y1="1601.3" x2="730" y2="1601.3" stroke="#10c438" stroke-width="6.5"/>
<text x="742" y="1619.6"><tspan font-style="italic">A</tspan><tspan font-size="39" dy="14" dx="1">m</tspan><tspan dy="-14" dx="2">/</tspan><tspan font-style="italic">h</tspan><tspan font-size="36" dy="14" dx="2">0</tspan><tspan dy="-14">=0.0206</tspan></text>
<line x1="1072" y1="1601.3" x2="1210" y2="1601.3" stroke="#bc1e7a" stroke-width="6.5"/>
<text x="1222" y="1619.6"><tspan font-style="italic">A</tspan><tspan font-size="39" dy="14" dx="1">m</tspan><tspan dy="-14" dx="2">/</tspan><tspan font-style="italic">h</tspan><tspan font-size="36" dy="14" dx="2">0</tspan><tspan dy="-14">=0.0186</tspan></text>
<line x1="113" y1="1686.7" x2="251" y2="1686.7" stroke="#26c6cc" stroke-width="6.5"/>
<text x="262" y="1705.0"><tspan font-style="italic">A</tspan><tspan font-size="39" dy="14" dx="1">m</tspan><tspan dy="-14" dx="2">/</tspan><tspan font-style="italic">h</tspan><tspan font-size="36" dy="14" dx="2">0</tspan><tspan dy="-14">=0.0170</tspan></text>
</svg>
</body></html>
